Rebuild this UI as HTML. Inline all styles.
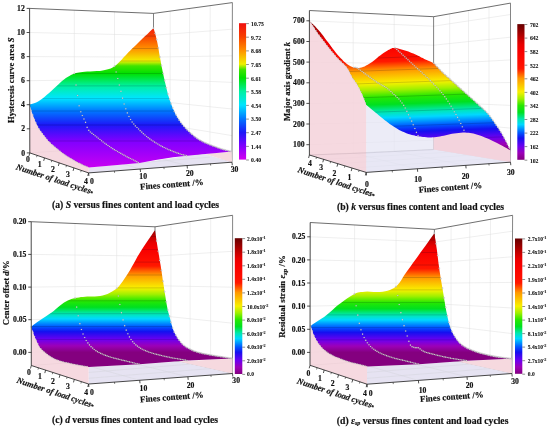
<!DOCTYPE html>
<html><head><meta charset="utf-8"><title>Figure</title>
<style>
html,body{margin:0;padding:0;background:#fff;}
svg{display:block;}
svg text{font-family:"Liberation Serif","Times New Roman",serif;fill:#111;stroke:#111;stroke-width:0.18px;}
</style></head><body>
<svg width="550" height="429" viewBox="0 0 550 429">
<rect width="550" height="429" fill="#fff"/>
<defs>
<linearGradient id="ga" gradientUnits="userSpaceOnUse" x1="0.0" y1="23.6" x2="0.0" y2="172.0"><stop offset="0.0000" stop-color="#f01010"/><stop offset="0.0842" stop-color="#f84000"/><stop offset="0.1678" stop-color="#ff9000"/><stop offset="0.2520" stop-color="#f0f000"/><stop offset="0.2854" stop-color="#40e400"/><stop offset="0.3356" stop-color="#00e000"/><stop offset="0.4198" stop-color="#00f0a0"/><stop offset="0.5034" stop-color="#00e4ff"/><stop offset="0.5889" stop-color="#0078ff"/><stop offset="0.6833" stop-color="#1c18f8"/><stop offset="0.7911" stop-color="#8000ff"/><stop offset="1.0000" stop-color="#d400f0"/></linearGradient>
<linearGradient id="cba" gradientUnits="userSpaceOnUse" x1="0.0" y1="23.2" x2="0.0" y2="159.6"><stop offset="0.0000" stop-color="#f01010"/><stop offset="0.1000" stop-color="#f84000"/><stop offset="0.2000" stop-color="#ff9000"/><stop offset="0.3000" stop-color="#f0f000"/><stop offset="0.3400" stop-color="#40e400"/><stop offset="0.4000" stop-color="#00e000"/><stop offset="0.5000" stop-color="#00f0a0"/><stop offset="0.6000" stop-color="#00e4ff"/><stop offset="0.7000" stop-color="#0078ff"/><stop offset="0.8000" stop-color="#1c18f8"/><stop offset="0.9000" stop-color="#8000ff"/><stop offset="1.0000" stop-color="#d400f0"/></linearGradient>
<linearGradient id="gb" gradientUnits="userSpaceOnUse" x1="400.0" y1="12.0" x2="405.0" y2="154.0"><stop offset="0.0000" stop-color="#660000"/><stop offset="0.1268" stop-color="#c00000"/><stop offset="0.1789" stop-color="#e80000"/><stop offset="0.2310" stop-color="#f80000"/><stop offset="0.3183" stop-color="#ff1000"/><stop offset="0.3449" stop-color="#ff1800"/><stop offset="0.3715" stop-color="#ff5000"/><stop offset="0.4070" stop-color="#ff9800"/><stop offset="0.4958" stop-color="#f8f000"/><stop offset="0.5451" stop-color="#a0f000"/><stop offset="0.5944" stop-color="#28e800"/><stop offset="0.6468" stop-color="#00e020"/><stop offset="0.6993" stop-color="#00e8b0"/><stop offset="0.7407" stop-color="#00d8ff"/><stop offset="0.8028" stop-color="#0058ff"/><stop offset="0.8437" stop-color="#1410f0"/><stop offset="0.9049" stop-color="#6c00f0"/><stop offset="0.9525" stop-color="#9c00b8"/><stop offset="1.0000" stop-color="#84007f"/></linearGradient>
<linearGradient id="cbb" gradientUnits="userSpaceOnUse" x1="0.0" y1="24.1" x2="0.0" y2="159.8"><stop offset="0.0000" stop-color="#660000"/><stop offset="0.1000" stop-color="#c00000"/><stop offset="0.1500" stop-color="#e80000"/><stop offset="0.2000" stop-color="#f80000"/><stop offset="0.3000" stop-color="#ff1000"/><stop offset="0.3300" stop-color="#ff1800"/><stop offset="0.3600" stop-color="#ff5000"/><stop offset="0.4000" stop-color="#ff9800"/><stop offset="0.5000" stop-color="#f8f000"/><stop offset="0.5500" stop-color="#a0f000"/><stop offset="0.6000" stop-color="#28e800"/><stop offset="0.6500" stop-color="#00e020"/><stop offset="0.7000" stop-color="#00e8b0"/><stop offset="0.7400" stop-color="#00d8ff"/><stop offset="0.8000" stop-color="#0058ff"/><stop offset="0.8400" stop-color="#1410f0"/><stop offset="0.9000" stop-color="#6c00f0"/><stop offset="0.9500" stop-color="#9c00b8"/><stop offset="1.0000" stop-color="#84007f"/></linearGradient>
<linearGradient id="gc" gradientUnits="userSpaceOnUse" x1="0.0" y1="223.5" x2="0.0" y2="352.3"><stop offset="0.0000" stop-color="#660000"/><stop offset="0.1000" stop-color="#c00000"/><stop offset="0.1500" stop-color="#e80000"/><stop offset="0.2000" stop-color="#f80000"/><stop offset="0.3000" stop-color="#ff1000"/><stop offset="0.3300" stop-color="#ff1800"/><stop offset="0.3600" stop-color="#ff5000"/><stop offset="0.4000" stop-color="#ff9800"/><stop offset="0.5000" stop-color="#f8f000"/><stop offset="0.5500" stop-color="#a0f000"/><stop offset="0.6000" stop-color="#28e800"/><stop offset="0.6500" stop-color="#00e020"/><stop offset="0.7000" stop-color="#00e8b0"/><stop offset="0.7400" stop-color="#00d8ff"/><stop offset="0.8000" stop-color="#0058ff"/><stop offset="0.8400" stop-color="#1410f0"/><stop offset="0.9000" stop-color="#6c00f0"/><stop offset="0.9500" stop-color="#9c00b8"/><stop offset="1.0000" stop-color="#84007f"/></linearGradient>
<linearGradient id="cbc" gradientUnits="userSpaceOnUse" x1="0.0" y1="238.2" x2="0.0" y2="374.0"><stop offset="0.0000" stop-color="#660000"/><stop offset="0.1000" stop-color="#c00000"/><stop offset="0.1500" stop-color="#e80000"/><stop offset="0.2000" stop-color="#f80000"/><stop offset="0.3000" stop-color="#ff1000"/><stop offset="0.3300" stop-color="#ff1800"/><stop offset="0.3600" stop-color="#ff5000"/><stop offset="0.4000" stop-color="#ff9800"/><stop offset="0.5000" stop-color="#f8f000"/><stop offset="0.5500" stop-color="#a0f000"/><stop offset="0.6000" stop-color="#28e800"/><stop offset="0.6500" stop-color="#00e020"/><stop offset="0.7000" stop-color="#00e8b0"/><stop offset="0.7400" stop-color="#00d8ff"/><stop offset="0.8000" stop-color="#0058ff"/><stop offset="0.8400" stop-color="#1410f0"/><stop offset="0.9000" stop-color="#6c00f0"/><stop offset="0.9500" stop-color="#9c00b8"/><stop offset="1.0000" stop-color="#84007f"/></linearGradient>
<linearGradient id="gd" gradientUnits="userSpaceOnUse" x1="0.0" y1="227.5" x2="0.0" y2="352.4"><stop offset="0.0000" stop-color="#660000"/><stop offset="0.1000" stop-color="#c00000"/><stop offset="0.1500" stop-color="#e80000"/><stop offset="0.2000" stop-color="#f80000"/><stop offset="0.3000" stop-color="#ff1000"/><stop offset="0.3300" stop-color="#ff1800"/><stop offset="0.3600" stop-color="#ff5000"/><stop offset="0.4000" stop-color="#ff9800"/><stop offset="0.5000" stop-color="#f8f000"/><stop offset="0.5500" stop-color="#a0f000"/><stop offset="0.6000" stop-color="#28e800"/><stop offset="0.6500" stop-color="#00e020"/><stop offset="0.7000" stop-color="#00e8b0"/><stop offset="0.7400" stop-color="#00d8ff"/><stop offset="0.8000" stop-color="#0058ff"/><stop offset="0.8400" stop-color="#1410f0"/><stop offset="0.9000" stop-color="#6c00f0"/><stop offset="0.9500" stop-color="#9c00b8"/><stop offset="1.0000" stop-color="#84007f"/></linearGradient>
<linearGradient id="cbd" gradientUnits="userSpaceOnUse" x1="0.0" y1="238.5" x2="0.0" y2="373.8"><stop offset="0.0000" stop-color="#660000"/><stop offset="0.1000" stop-color="#c00000"/><stop offset="0.1500" stop-color="#e80000"/><stop offset="0.2000" stop-color="#f80000"/><stop offset="0.3000" stop-color="#ff1000"/><stop offset="0.3300" stop-color="#ff1800"/><stop offset="0.3600" stop-color="#ff5000"/><stop offset="0.4000" stop-color="#ff9800"/><stop offset="0.5000" stop-color="#f8f000"/><stop offset="0.5500" stop-color="#a0f000"/><stop offset="0.6000" stop-color="#28e800"/><stop offset="0.6500" stop-color="#00e020"/><stop offset="0.7000" stop-color="#00e8b0"/><stop offset="0.7400" stop-color="#00d8ff"/><stop offset="0.8000" stop-color="#0058ff"/><stop offset="0.8400" stop-color="#1410f0"/><stop offset="0.9000" stop-color="#6c00f0"/><stop offset="0.9500" stop-color="#9c00b8"/><stop offset="1.0000" stop-color="#84007f"/></linearGradient>
</defs>
<g id="panel-a">
<line x1="29.8" y1="128.8" x2="153.5" y2="122.7" stroke="#dedede" stroke-width="0.5" />
<line x1="153.5" y1="122.7" x2="232.1" y2="135.6" stroke="#dedede" stroke-width="0.5" />
<line x1="29.7" y1="104.7" x2="153.5" y2="100.9" stroke="#dedede" stroke-width="0.5" />
<line x1="153.5" y1="100.9" x2="232.1" y2="109.0" stroke="#dedede" stroke-width="0.5" />
<line x1="29.7" y1="80.7" x2="153.5" y2="79.0" stroke="#dedede" stroke-width="0.5" />
<line x1="153.5" y1="79.0" x2="232.2" y2="82.4" stroke="#dedede" stroke-width="0.5" />
<line x1="29.7" y1="56.6" x2="153.5" y2="57.1" stroke="#dedede" stroke-width="0.5" />
<line x1="153.5" y1="57.1" x2="232.3" y2="55.8" stroke="#dedede" stroke-width="0.5" />
<line x1="29.6" y1="32.5" x2="153.5" y2="35.3" stroke="#dedede" stroke-width="0.5" />
<line x1="153.5" y1="35.3" x2="232.3" y2="29.2" stroke="#dedede" stroke-width="0.5" />
<line x1="74.4" y1="149.9" x2="74.3" y2="10.2" stroke="#dedede" stroke-width="0.5" />
<line x1="114.6" y1="147.2" x2="114.5" y2="11.8" stroke="#dedede" stroke-width="0.5" />
<line x1="170.1" y1="148.3" x2="170.2" y2="11.1" stroke="#dedede" stroke-width="0.5" />
<line x1="189.4" y1="152.6" x2="189.6" y2="8.5" stroke="#dedede" stroke-width="0.5" />
<line x1="209.9" y1="157.2" x2="210.2" y2="5.6" stroke="#dedede" stroke-width="0.5" />
<polyline points="29.6,8.4 153.5,13.4 232.4,2.6" fill="none" stroke="#4a4a4a" stroke-width="0.8" />
<line x1="232.4" y1="2.6" x2="232.0" y2="162.2" stroke="#666" stroke-width="0.8" />
<line x1="153.5" y1="13.4" x2="153.5" y2="144.6" stroke="#4a4a4a" stroke-width="0.7" />
<line x1="29.8" y1="152.9" x2="153.5" y2="144.6" stroke="#aaa" stroke-width="0.5" />
<line x1="153.5" y1="144.6" x2="232.0" y2="162.2" stroke="#888" stroke-width="0.6" />
<polygon points="88.6,167.4 139.6,163.0 187.6,155.8 205.0,154.0 232.0,162.2 88.6,172.9" fill="#e6e3f2" />
<clipPath id="fca"><polygon points="88.6,167.4 139.6,163.0 187.6,155.8 205.0,154.0 232.0,162.2 88.6,172.9"/></clipPath><g clip-path="url(#fca)">
<line x1="140.2" y1="169.0" x2="74.4" y2="149.9" stroke="#d4d4dc" stroke-width="0.5" />
<line x1="187.1" y1="165.5" x2="114.6" y2="147.2" stroke="#d4d4dc" stroke-width="0.5" />
<line x1="44.5" y1="157.9" x2="170.1" y2="148.3" stroke="#d4d4dc" stroke-width="0.5" />
<line x1="59.2" y1="162.9" x2="189.4" y2="152.6" stroke="#d4d4dc" stroke-width="0.5" />
<line x1="73.9" y1="167.9" x2="209.9" y2="157.2" stroke="#d4d4dc" stroke-width="0.5" />
</g>
<polygon points="205.0,154.0 231.5,151.6 232.0,162.2" fill="#f6d9df" />
<clipPath id="cpa"><polygon points="29.5,104.6 30.4,104.3 31.7,104.0 33.2,103.6 34.9,103.0 36.7,102.3 38.5,101.3 40.4,100.0 42.5,98.4 44.7,96.7 46.9,94.8 49.1,92.9 51.3,91.0 53.4,89.1 55.6,87.0 57.8,85.0 59.9,83.0 62.0,81.1 64.0,79.5 65.9,78.1 67.6,77.0 69.4,75.9 71.0,75.1 72.7,74.3 74.4,73.6 76.0,73.1 77.5,72.7 79.0,72.4 80.6,72.2 82.5,72.0 84.6,71.8 87.2,71.6 90.2,71.4 93.5,71.3 96.8,71.1 99.9,70.9 102.6,70.5 104.9,70.1 107.0,69.6 108.9,69.1 110.7,68.4 112.6,67.5 114.6,66.2 116.8,64.4 119.1,62.3 121.4,59.9 123.7,57.3 126.0,54.9 128.2,52.6 130.3,50.6 132.2,48.6 134.1,46.7 136.0,44.9 138.0,43.0 140.0,41.0 142.3,38.8 144.9,36.3 147.5,33.9 149.9,31.6 152.0,29.6 153.5,28.2 153.9,29.4 154.4,31.0 155.0,33.0 155.6,35.3 156.3,38.0 157.0,41.0 157.7,44.6 158.5,48.7 159.2,53.2 160.1,57.9 160.9,62.4 161.7,66.7 162.5,70.8 163.4,74.9 164.3,79.0 165.2,82.9 166.0,86.5 166.8,89.7 167.5,92.5 168.1,94.9 168.8,97.0 169.4,98.9 170.0,100.9 170.8,103.0 171.6,105.2 172.5,107.4 173.4,109.6 174.4,111.8 175.4,113.9 176.6,116.0 177.8,118.1 179.1,120.1 180.4,122.1 181.9,124.0 183.5,126.0 185.3,128.0 187.3,130.0 189.4,132.1 191.8,134.2 194.2,136.3 196.8,138.2 199.5,140.0 202.5,141.6 205.7,143.1 209.1,144.5 212.4,145.8 215.6,147.0 218.5,148.0 221.2,148.9 223.8,149.7 226.2,150.3 228.4,150.8 230.2,151.3 231.5,151.6 216.7,152.9 202.2,154.3 187.6,155.8 173.0,157.2 155.6,160.1 139.6,163.0 109.0,165.7 88.6,167.4 88.1,167.2 87.4,167.0 86.5,166.7 85.5,166.3 84.5,165.9 83.4,165.4 82.3,164.9 81.0,164.3 79.7,163.6 78.4,162.9 77.0,162.2 75.5,161.4 73.9,160.5 72.3,159.6 70.5,158.6 68.8,157.5 67.2,156.5 65.6,155.5 64.2,154.5 62.8,153.5 61.5,152.6 60.3,151.6 59.0,150.6 57.7,149.5 56.3,148.4 55.0,147.3 53.6,146.1 52.2,144.9 50.9,143.8 49.7,142.6 48.6,141.4 47.5,140.3 46.6,139.1 45.6,137.9 44.7,136.8 43.8,135.6 42.9,134.5 42.0,133.3 41.2,132.2 40.4,131.1 39.6,129.9 38.8,128.7 38.1,127.4 37.4,126.1 36.7,124.8 36.1,123.5 35.5,122.1 34.9,120.8 34.3,119.5 33.8,118.1 33.3,116.8 32.8,115.5 32.4,114.1 31.9,112.8 31.4,111.4 31.0,109.8 30.5,108.2 30.1,106.7 29.8,105.5 29.5,104.6"/></clipPath>
<polygon points="29.5,104.6 30.4,104.3 31.7,104.0 33.2,103.6 34.9,103.0 36.7,102.3 38.5,101.3 40.4,100.0 42.5,98.4 44.7,96.7 46.9,94.8 49.1,92.9 51.3,91.0 53.4,89.1 55.6,87.0 57.8,85.0 59.9,83.0 62.0,81.1 64.0,79.5 65.9,78.1 67.6,77.0 69.4,75.9 71.0,75.1 72.7,74.3 74.4,73.6 76.0,73.1 77.5,72.7 79.0,72.4 80.6,72.2 82.5,72.0 84.6,71.8 87.2,71.6 90.2,71.4 93.5,71.3 96.8,71.1 99.9,70.9 102.6,70.5 104.9,70.1 107.0,69.6 108.9,69.1 110.7,68.4 112.6,67.5 114.6,66.2 116.8,64.4 119.1,62.3 121.4,59.9 123.7,57.3 126.0,54.9 128.2,52.6 130.3,50.6 132.2,48.6 134.1,46.7 136.0,44.9 138.0,43.0 140.0,41.0 142.3,38.8 144.9,36.3 147.5,33.9 149.9,31.6 152.0,29.6 153.5,28.2 153.9,29.4 154.4,31.0 155.0,33.0 155.6,35.3 156.3,38.0 157.0,41.0 157.7,44.6 158.5,48.7 159.2,53.2 160.1,57.9 160.9,62.4 161.7,66.7 162.5,70.8 163.4,74.9 164.3,79.0 165.2,82.9 166.0,86.5 166.8,89.7 167.5,92.5 168.1,94.9 168.8,97.0 169.4,98.9 170.0,100.9 170.8,103.0 171.6,105.2 172.5,107.4 173.4,109.6 174.4,111.8 175.4,113.9 176.6,116.0 177.8,118.1 179.1,120.1 180.4,122.1 181.9,124.0 183.5,126.0 185.3,128.0 187.3,130.0 189.4,132.1 191.8,134.2 194.2,136.3 196.8,138.2 199.5,140.0 202.5,141.6 205.7,143.1 209.1,144.5 212.4,145.8 215.6,147.0 218.5,148.0 221.2,148.9 223.8,149.7 226.2,150.3 228.4,150.8 230.2,151.3 231.5,151.6 216.7,152.9 202.2,154.3 187.6,155.8 173.0,157.2 155.6,160.1 139.6,163.0 109.0,165.7 88.6,167.4 88.1,167.2 87.4,167.0 86.5,166.7 85.5,166.3 84.5,165.9 83.4,165.4 82.3,164.9 81.0,164.3 79.7,163.6 78.4,162.9 77.0,162.2 75.5,161.4 73.9,160.5 72.3,159.6 70.5,158.6 68.8,157.5 67.2,156.5 65.6,155.5 64.2,154.5 62.8,153.5 61.5,152.6 60.3,151.6 59.0,150.6 57.7,149.5 56.3,148.4 55.0,147.3 53.6,146.1 52.2,144.9 50.9,143.8 49.7,142.6 48.6,141.4 47.5,140.3 46.6,139.1 45.6,137.9 44.7,136.8 43.8,135.6 42.9,134.5 42.0,133.3 41.2,132.2 40.4,131.1 39.6,129.9 38.8,128.7 38.1,127.4 37.4,126.1 36.7,124.8 36.1,123.5 35.5,122.1 34.9,120.8 34.3,119.5 33.8,118.1 33.3,116.8 32.8,115.5 32.4,114.1 31.9,112.8 31.4,111.4 31.0,109.8 30.5,108.2 30.1,106.7 29.8,105.5 29.5,104.6" fill="url(#ga)" />
<g clip-path="url(#cpa)">
<line x1="25.0" y1="36.1" x2="235.0" y2="36.1" stroke="#002" stroke-width="0.6" opacity="0.28"/>
<line x1="25.0" y1="48.5" x2="235.0" y2="48.5" stroke="#002" stroke-width="0.6" opacity="0.28"/>
<line x1="25.0" y1="61.0" x2="235.0" y2="61.0" stroke="#002" stroke-width="0.6" opacity="0.28"/>
<line x1="25.0" y1="73.4" x2="235.0" y2="73.4" stroke="#002" stroke-width="0.6" opacity="0.28"/>
<line x1="25.0" y1="85.9" x2="235.0" y2="85.9" stroke="#002" stroke-width="0.6" opacity="0.28"/>
<line x1="25.0" y1="98.3" x2="235.0" y2="98.3" stroke="#002" stroke-width="0.6" opacity="0.28"/>
<line x1="25.0" y1="111.0" x2="235.0" y2="111.0" stroke="#002" stroke-width="0.6" opacity="0.28"/>
<line x1="25.0" y1="125.0" x2="235.0" y2="125.0" stroke="#002" stroke-width="0.6" opacity="0.28"/>
<line x1="25.0" y1="141.0" x2="235.0" y2="141.0" stroke="#002" stroke-width="0.6" opacity="0.28"/>
</g>
<path d="M73.9 73.0h1.1v1.1h-1.1zM75.5 84.5h1.1v1.1h-1.1zM77.0 94.9h1.1v1.1h-1.1zM78.6 105.2h1.1v1.1h-1.1zM80.2 111.2h1.1v1.1h-1.1zM81.8 115.0h1.1v1.1h-1.1zM83.4 118.4h1.1v1.1h-1.1zM85.0 121.8h1.1v1.1h-1.1zM86.6 126.8h1.1v1.1h-1.1zM88.2 129.8h1.1v1.1h-1.1zM89.8 131.4h1.1v1.1h-1.1zM91.4 132.8h1.1v1.1h-1.1zM93.0 134.0h1.1v1.1h-1.1zM94.6 135.2h1.1v1.1h-1.1zM96.2 136.4h1.1v1.1h-1.1zM97.8 137.7h1.1v1.1h-1.1zM99.4 138.9h1.1v1.1h-1.1zM101.0 140.2h1.1v1.1h-1.1zM102.6 141.5h1.1v1.1h-1.1zM104.2 142.7h1.1v1.1h-1.1zM105.8 143.8h1.1v1.1h-1.1zM107.4 145.0h1.1v1.1h-1.1zM109.0 146.0h1.1v1.1h-1.1zM110.6 147.1h1.1v1.1h-1.1zM112.2 148.1h1.1v1.1h-1.1zM113.8 149.1h1.1v1.1h-1.1zM115.4 150.0h1.1v1.1h-1.1zM117.0 151.0h1.1v1.1h-1.1zM118.6 151.9h1.1v1.1h-1.1zM120.2 152.8h1.1v1.1h-1.1zM121.8 153.7h1.1v1.1h-1.1zM123.4 154.6h1.1v1.1h-1.1zM125.0 155.4h1.1v1.1h-1.1zM126.6 156.3h1.1v1.1h-1.1zM128.2 157.1h1.1v1.1h-1.1zM129.8 157.9h1.1v1.1h-1.1zM131.4 158.7h1.1v1.1h-1.1zM133.0 159.5h1.1v1.1h-1.1zM134.6 160.3h1.1v1.1h-1.1zM136.2 161.1h1.1v1.1h-1.1zM137.8 161.9h1.1v1.1h-1.1z" fill="#ececec" stroke="#8f8f8f" stroke-width="0.25"/>
<path d="M114.0 65.7h1.1v1.1h-1.1zM115.6 71.4h1.1v1.1h-1.1zM117.2 78.0h1.1v1.1h-1.1zM118.8 84.4h1.1v1.1h-1.1zM120.4 90.8h1.1v1.1h-1.1zM122.0 97.6h1.1v1.1h-1.1zM123.6 103.4h1.1v1.1h-1.1zM125.2 108.2h1.1v1.1h-1.1zM126.8 112.3h1.1v1.1h-1.1zM128.4 115.9h1.1v1.1h-1.1zM130.0 118.9h1.1v1.1h-1.1zM131.6 121.4h1.1v1.1h-1.1zM133.2 123.5h1.1v1.1h-1.1zM134.8 125.3h1.1v1.1h-1.1zM136.4 126.9h1.1v1.1h-1.1zM138.0 128.5h1.1v1.1h-1.1zM139.6 130.1h1.1v1.1h-1.1zM141.2 131.6h1.1v1.1h-1.1zM142.8 133.1h1.1v1.1h-1.1zM144.4 134.5h1.1v1.1h-1.1zM146.0 135.9h1.1v1.1h-1.1zM147.6 137.1h1.1v1.1h-1.1zM149.2 138.3h1.1v1.1h-1.1zM150.8 139.5h1.1v1.1h-1.1zM152.4 140.5h1.1v1.1h-1.1zM154.0 141.6h1.1v1.1h-1.1zM155.6 142.5h1.1v1.1h-1.1zM157.2 143.5h1.1v1.1h-1.1zM158.8 144.4h1.1v1.1h-1.1zM160.4 145.3h1.1v1.1h-1.1zM162.0 146.1h1.1v1.1h-1.1zM163.6 146.9h1.1v1.1h-1.1zM165.2 147.7h1.1v1.1h-1.1zM166.8 148.5h1.1v1.1h-1.1zM168.4 149.2h1.1v1.1h-1.1zM170.0 149.8h1.1v1.1h-1.1zM171.6 150.5h1.1v1.1h-1.1zM173.2 151.1h1.1v1.1h-1.1zM174.8 151.7h1.1v1.1h-1.1zM176.4 152.3h1.1v1.1h-1.1zM178.0 152.8h1.1v1.1h-1.1zM179.6 153.4h1.1v1.1h-1.1zM181.2 153.9h1.1v1.1h-1.1zM182.8 154.3h1.1v1.1h-1.1zM184.4 154.7h1.1v1.1h-1.1zM186.0 155.0h1.1v1.1h-1.1z" fill="#ececec" stroke="#8f8f8f" stroke-width="0.25"/>
<path d="M152.9 27.6h1.1v1.1h-1.1zM154.5 32.9h1.1v1.1h-1.1zM156.1 39.1h1.1v1.1h-1.1zM157.7 47.3h1.1v1.1h-1.1zM159.3 56.4h1.1v1.1h-1.1zM160.9 65.1h1.1v1.1h-1.1zM162.5 72.9h1.1v1.1h-1.1zM164.1 80.2h1.1v1.1h-1.1zM165.7 87.1h1.1v1.1h-1.1zM167.3 93.4h1.1v1.1h-1.1zM168.9 98.8h1.1v1.1h-1.1zM170.5 103.2h1.1v1.1h-1.1zM172.1 107.3h1.1v1.1h-1.1zM173.7 111.0h1.1v1.1h-1.1zM175.3 114.2h1.1v1.1h-1.1zM176.9 117.0h1.1v1.1h-1.1zM178.5 119.6h1.1v1.1h-1.1zM180.1 121.9h1.1v1.1h-1.1zM181.7 124.0h1.1v1.1h-1.1zM183.3 125.9h1.1v1.1h-1.1zM184.9 127.7h1.1v1.1h-1.1zM186.5 129.3h1.1v1.1h-1.1zM188.1 130.9h1.1v1.1h-1.1zM189.7 132.4h1.1v1.1h-1.1zM191.3 133.8h1.1v1.1h-1.1zM192.9 135.2h1.1v1.1h-1.1zM194.5 136.4h1.1v1.1h-1.1zM196.1 137.6h1.1v1.1h-1.1zM197.7 138.7h1.1v1.1h-1.1zM199.3 139.7h1.1v1.1h-1.1zM200.9 140.5h1.1v1.1h-1.1zM202.5 141.4h1.1v1.1h-1.1zM204.1 142.1h1.1v1.1h-1.1zM205.7 142.8h1.1v1.1h-1.1zM207.3 143.5h1.1v1.1h-1.1zM208.9 144.1h1.1v1.1h-1.1zM210.5 144.7h1.1v1.1h-1.1zM212.1 145.4h1.1v1.1h-1.1zM213.7 145.9h1.1v1.1h-1.1zM215.3 146.5h1.1v1.1h-1.1zM216.9 147.1h1.1v1.1h-1.1zM218.5 147.7h1.1v1.1h-1.1zM220.1 148.2h1.1v1.1h-1.1zM221.7 148.7h1.1v1.1h-1.1zM223.3 149.1h1.1v1.1h-1.1zM224.9 149.6h1.1v1.1h-1.1zM226.5 150.0h1.1v1.1h-1.1zM228.1 150.4h1.1v1.1h-1.1zM229.7 150.7h1.1v1.1h-1.1z" fill="#ececec" stroke="#8f8f8f" stroke-width="0.25"/>
<path d="M28.9 104.0h1.1v1.1h-1.1zM30.6 109.7h1.1v1.1h-1.1zM32.2 114.6h1.1v1.1h-1.1zM33.8 118.8h1.1v1.1h-1.1zM35.4 122.5h1.1v1.1h-1.1zM37.0 125.8h1.1v1.1h-1.1zM38.6 128.6h1.1v1.1h-1.1zM40.2 131.0h1.1v1.1h-1.1zM41.8 133.1h1.1v1.1h-1.1zM43.4 135.2h1.1v1.1h-1.1zM45.0 137.2h1.1v1.1h-1.1zM46.6 139.2h1.1v1.1h-1.1zM48.2 141.0h1.1v1.1h-1.1zM49.8 142.6h1.1v1.1h-1.1zM51.4 144.1h1.1v1.1h-1.1zM53.0 145.5h1.1v1.1h-1.1zM54.6 146.8h1.1v1.1h-1.1zM56.2 148.1h1.1v1.1h-1.1zM57.8 149.4h1.1v1.1h-1.1zM59.4 150.7h1.1v1.1h-1.1zM61.0 152.0h1.1v1.1h-1.1zM62.6 153.2h1.1v1.1h-1.1zM64.2 154.3h1.1v1.1h-1.1zM65.8 155.4h1.1v1.1h-1.1zM67.4 156.4h1.1v1.1h-1.1zM69.0 157.4h1.1v1.1h-1.1zM70.6 158.3h1.1v1.1h-1.1zM72.2 159.3h1.1v1.1h-1.1zM73.8 160.2h1.1v1.1h-1.1zM75.3 161.1h1.1v1.1h-1.1zM76.9 161.9h1.1v1.1h-1.1zM78.5 162.8h1.1v1.1h-1.1zM80.1 163.6h1.1v1.1h-1.1zM81.7 164.3h1.1v1.1h-1.1zM83.3 165.1h1.1v1.1h-1.1zM84.9 165.7h1.1v1.1h-1.1zM86.5 166.3h1.1v1.1h-1.1z" fill="#ececec" stroke="#8f8f8f" stroke-width="0.25"/>
<polygon points="29.5,104.6 29.8,105.5 30.1,106.7 30.5,108.2 31.0,109.8 31.4,111.3 31.9,112.8 32.4,114.1 32.8,115.5 33.3,116.8 33.8,118.1 34.3,119.5 34.9,120.8 35.5,122.1 36.1,123.5 36.7,124.8 37.4,126.1 38.1,127.4 38.8,128.7 39.6,129.9 40.4,131.1 41.2,132.2 42.0,133.3 42.9,134.5 43.8,135.6 44.7,136.8 45.6,137.9 46.6,139.1 47.5,140.3 48.6,141.4 49.7,142.6 50.9,143.8 52.2,144.9 53.6,146.1 55.0,147.3 56.3,148.4 57.7,149.5 59.0,150.6 60.3,151.6 61.5,152.6 62.8,153.5 64.2,154.5 65.6,155.5 67.2,156.5 68.8,157.5 70.5,158.6 72.3,159.6 73.9,160.5 75.5,161.4 77.0,162.2 78.4,162.9 79.7,163.6 81.0,164.3 82.3,164.9 83.4,165.4 84.5,165.9 85.5,166.3 86.5,166.7 87.4,167.0 88.1,167.2 88.6,167.4 88.6,172.9 29.8,152.9" fill="rgba(244,210,218,0.85)" />
<line x1="29.6" y1="8.4" x2="29.8" y2="152.9" stroke="#333" stroke-width="0.9" />
<line x1="29.8" y1="152.9" x2="88.6" y2="172.9" stroke="#333" stroke-width="0.9" />
<line x1="88.6" y1="172.9" x2="232.0" y2="162.2" stroke="#333" stroke-width="0.9" />
<line x1="26.8" y1="152.9" x2="29.8" y2="152.9" stroke="#222" stroke-width="0.8" />
<text x="25.0" y="155.5" font-size="7.7" text-anchor="end" font-weight="bold" font-style="normal" >0</text>
<line x1="26.8" y1="128.8" x2="29.8" y2="128.8" stroke="#222" stroke-width="0.8" />
<text x="25.0" y="131.4" font-size="7.7" text-anchor="end" font-weight="bold" font-style="normal" >2</text>
<line x1="26.7" y1="104.7" x2="29.7" y2="104.7" stroke="#222" stroke-width="0.8" />
<text x="24.9" y="107.3" font-size="7.7" text-anchor="end" font-weight="bold" font-style="normal" >4</text>
<line x1="26.7" y1="80.7" x2="29.7" y2="80.7" stroke="#222" stroke-width="0.8" />
<text x="24.9" y="83.2" font-size="7.7" text-anchor="end" font-weight="bold" font-style="normal" >6</text>
<line x1="26.7" y1="56.6" x2="29.7" y2="56.6" stroke="#222" stroke-width="0.8" />
<text x="24.9" y="59.2" font-size="7.7" text-anchor="end" font-weight="bold" font-style="normal" >8</text>
<line x1="26.6" y1="32.5" x2="29.6" y2="32.5" stroke="#222" stroke-width="0.8" />
<text x="24.8" y="35.1" font-size="7.7" text-anchor="end" font-weight="bold" font-style="normal" >10</text>
<line x1="26.6" y1="8.4" x2="29.6" y2="8.4" stroke="#222" stroke-width="0.8" />
<text x="24.8" y="11.0" font-size="7.7" text-anchor="end" font-weight="bold" font-style="normal" >12</text>
<line x1="29.8" y1="152.9" x2="29.0" y2="155.9" stroke="#222" stroke-width="0.8" />
<text x="28.0" y="161.6" font-size="7.7" text-anchor="middle" font-weight="bold" font-style="normal" >0</text>
<line x1="44.5" y1="157.9" x2="43.7" y2="160.9" stroke="#222" stroke-width="0.8" />
<text x="39.6" y="166.6" font-size="7.7" text-anchor="middle" font-weight="bold" font-style="normal" >1</text>
<line x1="59.2" y1="162.9" x2="58.4" y2="165.9" stroke="#222" stroke-width="0.8" />
<text x="53.0" y="172.0" font-size="7.7" text-anchor="middle" font-weight="bold" font-style="normal" >2</text>
<line x1="73.9" y1="167.9" x2="73.1" y2="170.9" stroke="#222" stroke-width="0.8" />
<text x="68.0" y="177.0" font-size="7.7" text-anchor="middle" font-weight="bold" font-style="normal" >3</text>
<line x1="88.6" y1="172.9" x2="87.8" y2="175.9" stroke="#222" stroke-width="0.8" />
<text x="86.0" y="183.6" font-size="7.7" text-anchor="middle" font-weight="bold" font-style="normal" >4</text>
<line x1="37.1" y1="155.4" x2="36.6" y2="157.2" stroke="#222" stroke-width="0.6" />
<line x1="51.8" y1="160.4" x2="51.3" y2="162.2" stroke="#222" stroke-width="0.6" />
<line x1="66.5" y1="165.4" x2="66.0" y2="167.2" stroke="#222" stroke-width="0.6" />
<line x1="81.2" y1="170.4" x2="80.8" y2="172.2" stroke="#222" stroke-width="0.6" />
<line x1="88.6" y1="172.9" x2="88.9" y2="175.9" stroke="#222" stroke-width="0.8" />
<text x="91.8" y="183.6" font-size="7.7" text-anchor="middle" font-weight="bold" font-style="normal" >0</text>
<line x1="140.2" y1="169.0" x2="140.5" y2="172.0" stroke="#222" stroke-width="0.8" />
<text x="143.2" y="179.2" font-size="7.7" text-anchor="middle" font-weight="bold" font-style="normal" >10</text>
<line x1="187.1" y1="165.5" x2="187.4" y2="168.5" stroke="#222" stroke-width="0.8" />
<text x="189.8" y="175.6" font-size="7.7" text-anchor="middle" font-weight="bold" font-style="normal" >20</text>
<line x1="232.0" y1="162.2" x2="232.3" y2="165.2" stroke="#222" stroke-width="0.8" />
<text x="234.5" y="171.6" font-size="7.7" text-anchor="middle" font-weight="bold" font-style="normal" >30</text>
<line x1="114.4" y1="171.0" x2="114.6" y2="172.8" stroke="#222" stroke-width="0.6" />
<line x1="163.9" y1="167.3" x2="164.1" y2="169.1" stroke="#222" stroke-width="0.6" />
<line x1="210.5" y1="163.8" x2="210.7" y2="165.6" stroke="#222" stroke-width="0.6" />
<text x="14.3" y="80.2" font-size="8.64" text-anchor="middle" font-weight="bold" font-style="normal" transform="rotate(-90.0 14.3 80.2)" >Hysteresis curve area <tspan font-style="italic">S</tspan></text>
<text x="54.0" y="182.0" font-size="8.5" text-anchor="middle" font-weight="bold" font-style="normal" transform="rotate(18.3 54.0 182.0)" ><tspan font-style="italic">Number of load cycles</tspan><tspan font-size="5.5" dy="0.5">*</tspan></text>
<text x="172.0" y="187.3" font-size="8.8" text-anchor="middle" font-weight="bold" font-style="normal" transform="rotate(-4.3 172.0 187.3)" >Fines content /%</text>
<rect x="239.0" y="23.2" width="7.1" height="136.4" fill="url(#cba)"/>
<line x1="246.1" y1="23.6" x2="248.9" y2="23.6" stroke="#444" stroke-width="0.6" />
<text font-size="6.5" font-weight="bold" style="stroke-width:0.08px" transform="translate(251.1 25.9) scale(0.88 1)">10.75</text>
<line x1="246.1" y1="37.2" x2="248.9" y2="37.2" stroke="#444" stroke-width="0.6" />
<text font-size="6.5" font-weight="bold" style="stroke-width:0.08px" transform="translate(251.1 39.6) scale(0.88 1)">9.72</text>
<line x1="246.1" y1="50.9" x2="248.9" y2="50.9" stroke="#444" stroke-width="0.6" />
<text font-size="6.5" font-weight="bold" style="stroke-width:0.08px" transform="translate(251.1 53.2) scale(0.88 1)">8.68</text>
<line x1="246.1" y1="64.5" x2="248.9" y2="64.5" stroke="#444" stroke-width="0.6" />
<text font-size="6.5" font-weight="bold" style="stroke-width:0.08px" transform="translate(251.1 66.9) scale(0.88 1)">7.65</text>
<line x1="246.1" y1="78.2" x2="248.9" y2="78.2" stroke="#444" stroke-width="0.6" />
<text font-size="6.5" font-weight="bold" style="stroke-width:0.08px" transform="translate(251.1 80.5) scale(0.88 1)">6.61</text>
<line x1="246.1" y1="91.8" x2="248.9" y2="91.8" stroke="#444" stroke-width="0.6" />
<text font-size="6.5" font-weight="bold" style="stroke-width:0.08px" transform="translate(251.1 94.1) scale(0.88 1)">5.58</text>
<line x1="246.1" y1="105.4" x2="248.9" y2="105.4" stroke="#444" stroke-width="0.6" />
<text font-size="6.5" font-weight="bold" style="stroke-width:0.08px" transform="translate(251.1 107.8) scale(0.88 1)">4.54</text>
<line x1="246.1" y1="119.1" x2="248.9" y2="119.1" stroke="#444" stroke-width="0.6" />
<text font-size="6.5" font-weight="bold" style="stroke-width:0.08px" transform="translate(251.1 121.4) scale(0.88 1)">3.50</text>
<line x1="246.1" y1="132.7" x2="248.9" y2="132.7" stroke="#444" stroke-width="0.6" />
<text font-size="6.5" font-weight="bold" style="stroke-width:0.08px" transform="translate(251.1 135.1) scale(0.88 1)">2.47</text>
<line x1="246.1" y1="146.4" x2="248.9" y2="146.4" stroke="#444" stroke-width="0.6" />
<text font-size="6.5" font-weight="bold" style="stroke-width:0.08px" transform="translate(251.1 148.7) scale(0.88 1)">1.44</text>
<line x1="246.1" y1="160.0" x2="248.9" y2="160.0" stroke="#444" stroke-width="0.6" />
<text font-size="6.5" font-weight="bold" style="stroke-width:0.08px" transform="translate(251.1 162.3) scale(0.88 1)">0.40</text>
<text x="135.5" y="207.5" font-size="9.66" text-anchor="middle" font-weight="bold" font-style="normal" >(a) <tspan font-style="italic">S</tspan> versus fines content and load cycles</text>
</g>
<g id="panel-b">
<line x1="309.4" y1="144.7" x2="433.6" y2="140.1" stroke="#dedede" stroke-width="0.5" />
<line x1="433.6" y1="140.1" x2="510.5" y2="150.8" stroke="#dedede" stroke-width="0.5" />
<line x1="309.4" y1="124.0" x2="433.6" y2="121.1" stroke="#dedede" stroke-width="0.5" />
<line x1="433.6" y1="121.1" x2="510.5" y2="128.1" stroke="#dedede" stroke-width="0.5" />
<line x1="309.4" y1="103.4" x2="433.6" y2="102.1" stroke="#dedede" stroke-width="0.5" />
<line x1="433.6" y1="102.1" x2="510.5" y2="105.4" stroke="#dedede" stroke-width="0.5" />
<line x1="309.4" y1="82.8" x2="433.6" y2="83.1" stroke="#dedede" stroke-width="0.5" />
<line x1="433.6" y1="83.1" x2="510.5" y2="82.6" stroke="#dedede" stroke-width="0.5" />
<line x1="309.4" y1="62.1" x2="433.6" y2="64.2" stroke="#dedede" stroke-width="0.5" />
<line x1="433.6" y1="64.2" x2="510.5" y2="59.9" stroke="#dedede" stroke-width="0.5" />
<line x1="309.4" y1="41.5" x2="433.6" y2="45.2" stroke="#dedede" stroke-width="0.5" />
<line x1="433.6" y1="45.2" x2="510.5" y2="37.2" stroke="#dedede" stroke-width="0.5" />
<line x1="309.4" y1="20.8" x2="433.6" y2="26.2" stroke="#dedede" stroke-width="0.5" />
<line x1="433.6" y1="26.2" x2="510.5" y2="14.5" stroke="#dedede" stroke-width="0.5" />
<line x1="353.2" y1="153.1" x2="353.2" y2="12.7" stroke="#dedede" stroke-width="0.5" />
<line x1="394.2" y1="151.3" x2="394.2" y2="14.7" stroke="#dedede" stroke-width="0.5" />
<line x1="449.7" y1="152.2" x2="449.7" y2="13.9" stroke="#dedede" stroke-width="0.5" />
<line x1="468.5" y1="155.3" x2="468.5" y2="10.5" stroke="#dedede" stroke-width="0.5" />
<line x1="489.0" y1="158.7" x2="489.0" y2="6.9" stroke="#dedede" stroke-width="0.5" />
<polyline points="309.4,10.5 433.6,16.7 510.5,3.1" fill="none" stroke="#4a4a4a" stroke-width="0.8" />
<line x1="510.5" y1="3.1" x2="510.5" y2="162.2" stroke="#666" stroke-width="0.8" />
<line x1="433.6" y1="16.7" x2="433.6" y2="149.6" stroke="#4a4a4a" stroke-width="0.7" />
<line x1="309.4" y1="155.0" x2="433.6" y2="149.6" stroke="#aaa" stroke-width="0.5" />
<line x1="433.6" y1="149.6" x2="510.5" y2="162.2" stroke="#888" stroke-width="0.6" />
<polygon points="309.4,155.0 366.2,172.4 510.5,162.2 433.6,149.6" fill="#f0eef8" />
<clipPath id="fcb"><polygon points="309.4,155.0 366.2,172.4 510.5,162.2 433.6,149.6"/></clipPath><g clip-path="url(#fcb)">
<line x1="417.4" y1="168.8" x2="353.2" y2="153.1" stroke="#d4d4dc" stroke-width="0.5" />
<line x1="465.8" y1="165.4" x2="394.2" y2="151.3" stroke="#d4d4dc" stroke-width="0.5" />
<line x1="323.6" y1="159.3" x2="449.7" y2="152.2" stroke="#d4d4dc" stroke-width="0.5" />
<line x1="337.8" y1="163.7" x2="468.5" y2="155.3" stroke="#d4d4dc" stroke-width="0.5" />
<line x1="352.0" y1="168.1" x2="489.0" y2="158.7" stroke="#d4d4dc" stroke-width="0.5" />
</g>
<polygon points="366.1,104.8 367.3,105.8 369.1,107.3 371.1,109.0 373.3,110.8 375.4,112.5 377.3,114.1 379.0,115.5 380.5,116.8 382.1,118.0 383.6,119.2 385.1,120.4 386.6,121.6 388.2,122.8 389.7,123.9 391.3,125.0 392.9,126.1 394.4,127.1 396.0,128.1 397.6,129.0 399.1,129.9 400.7,130.7 402.2,131.4 403.8,132.1 405.3,132.8 406.9,133.4 408.5,133.9 410.2,134.4 411.8,134.9 413.3,135.3 414.6,135.6 415.7,135.9 416.6,136.0 417.4,136.2 418.2,136.3 419.1,136.4 420.2,136.5 421.5,136.7 423.0,136.9 424.6,137.1 426.3,137.2 427.9,137.4 429.6,137.4 431.3,137.4 432.9,137.3 434.6,137.2 436.4,137.0 438.2,136.8 440.0,136.5 441.9,136.1 443.8,135.7 445.8,135.2 447.9,134.7 449.9,134.2 452.0,133.8 454.1,133.5 456.4,133.2 458.6,132.9 460.9,132.8 463.0,132.6 465.0,132.6 466.8,132.7 468.6,132.8 470.2,133.0 471.8,133.3 473.4,133.6 475.0,134.0 476.6,134.4 478.3,134.9 479.9,135.5 481.5,136.1 483.2,136.8 485.0,137.5 486.9,138.3 488.8,139.1 490.8,140.0 492.8,141.0 494.9,142.0 497.0,143.0 499.3,144.2 501.8,145.6 504.4,147.0 506.8,148.3 508.8,149.5 510.3,150.3 510.5,162.2 366.2,172.4" fill="rgba(228,228,244,0.72)" />
<polygon points="433.7,63.2 434.7,64.3 436.1,65.8 437.8,67.5 439.6,69.4 441.3,71.2 443.0,72.9 444.6,74.4 446.1,75.8 447.6,77.2 449.2,78.5 450.8,79.9 452.3,81.3 453.8,82.7 455.4,84.1 456.9,85.5 458.5,86.9 460.0,88.3 461.6,89.7 463.2,91.1 464.7,92.5 466.3,93.9 467.9,95.3 469.4,96.7 471.0,98.1 472.6,99.5 474.2,100.9 475.8,102.4 477.3,103.8 478.8,105.2 480.3,106.5 481.7,107.8 483.0,108.9 484.2,110.1 485.5,111.3 486.7,112.6 488.0,114.0 489.3,115.6 490.7,117.4 492.0,119.3 493.4,121.2 494.7,123.1 496.0,125.0 497.2,126.8 498.4,128.5 499.5,130.3 500.7,132.1 501.8,134.0 503.0,136.0 504.3,138.4 505.7,141.1 507.1,143.8 508.4,146.5 509.5,148.7 510.3,150.3 510.5,162.2 433.6,149.6" fill="#f3d3dd" />
<clipPath id="cpb"><polygon points="309.4,20.9 310.4,21.9 311.8,23.2 313.5,24.8 315.3,26.5 317.0,28.4 318.7,30.2 320.2,32.1 321.8,34.0 323.4,36.1 324.9,38.2 326.4,40.3 328.0,42.3 329.6,44.3 331.1,46.4 332.6,48.5 334.2,50.6 335.7,52.5 337.3,54.4 338.9,56.2 340.5,57.9 342.1,59.6 343.6,61.2 345.2,62.6 346.6,63.8 348.0,64.8 349.2,65.6 350.5,66.2 351.7,66.8 352.9,67.2 354.1,67.5 355.3,67.8 356.5,67.9 357.7,68.0 359.0,68.0 360.2,67.8 361.6,67.5 363.0,67.0 364.6,66.4 366.1,65.6 367.7,64.7 369.3,63.8 370.9,62.8 372.4,61.7 374.0,60.5 375.5,59.2 377.1,57.9 378.6,56.6 380.2,55.4 381.8,54.3 383.5,53.1 385.1,52.0 386.8,51.0 388.3,50.1 389.6,49.4 390.7,48.8 391.6,48.4 392.3,48.1 393.1,47.9 394.0,47.9 395.1,47.9 396.5,48.1 398.1,48.4 399.8,48.9 401.5,49.4 403.3,49.9 405.0,50.5 406.7,51.1 408.4,51.6 410.0,52.3 411.7,52.9 413.4,53.6 415.0,54.3 416.6,55.0 418.1,55.8 419.7,56.6 421.2,57.4 422.8,58.1 424.3,58.9 426.0,59.7 427.8,60.5 429.6,61.3 431.3,62.1 432.7,62.7 433.7,63.2 434.7,64.3 436.1,65.8 437.8,67.5 439.6,69.4 441.3,71.2 443.0,72.9 444.6,74.4 446.1,75.8 447.6,77.2 449.2,78.5 450.8,79.9 452.3,81.3 453.8,82.7 455.4,84.1 456.9,85.5 458.5,86.9 460.0,88.3 461.6,89.7 463.2,91.1 464.7,92.5 466.3,93.9 467.9,95.3 469.4,96.7 471.0,98.1 472.6,99.5 474.2,100.9 475.8,102.4 477.3,103.8 478.8,105.2 480.3,106.5 481.7,107.8 483.0,108.9 484.2,110.1 485.5,111.3 486.7,112.6 488.0,114.0 489.3,115.6 490.7,117.4 492.0,119.3 493.4,121.2 494.7,123.1 496.0,125.0 497.2,126.8 498.4,128.5 499.5,130.3 500.7,132.1 501.8,134.0 503.0,136.0 504.3,138.4 505.7,141.1 507.1,143.8 508.4,146.5 509.5,148.7 510.3,150.3 508.8,149.5 506.8,148.3 504.4,147.0 501.8,145.6 499.3,144.2 497.0,143.0 494.9,142.0 492.8,141.0 490.8,140.0 488.8,139.1 486.9,138.3 485.0,137.5 483.2,136.8 481.5,136.1 479.9,135.5 478.3,134.9 476.6,134.4 475.0,134.0 473.4,133.6 471.8,133.3 470.2,133.0 468.6,132.8 466.8,132.7 465.0,132.6 463.0,132.6 460.9,132.8 458.6,132.9 456.4,133.2 454.1,133.5 452.0,133.8 449.9,134.2 447.9,134.7 445.8,135.2 443.8,135.7 441.9,136.1 440.0,136.5 438.2,136.8 436.4,137.0 434.6,137.2 432.9,137.3 431.3,137.4 429.6,137.4 427.9,137.4 426.3,137.2 424.6,137.1 423.0,136.9 421.5,136.7 420.2,136.5 419.1,136.4 418.2,136.3 417.4,136.2 416.6,136.0 415.7,135.9 414.6,135.6 413.3,135.3 411.8,134.9 410.2,134.4 408.5,133.9 406.9,133.4 405.3,132.8 403.8,132.1 402.2,131.4 400.7,130.7 399.1,129.9 397.6,129.0 396.0,128.1 394.4,127.1 392.9,126.1 391.3,125.0 389.7,123.9 388.2,122.8 386.6,121.6 385.1,120.4 383.6,119.2 382.1,118.0 380.5,116.8 379.0,115.5 377.3,114.1 375.4,112.5 373.3,110.8 371.1,109.0 369.1,107.3 367.3,105.8 366.1,104.8 365.7,103.8 365.2,102.4 364.6,100.8 363.9,99.0 363.2,97.2 362.4,95.4 361.6,93.6 360.6,91.7 359.7,89.7 358.7,87.7 357.7,85.9 356.8,84.3 356.0,83.0 355.2,81.9 354.5,81.0 353.8,80.1 353.0,79.0 352.2,77.8 351.4,76.3 350.5,74.6 349.7,72.8 348.8,71.0 347.8,69.2 346.6,67.5 345.3,65.9 343.8,64.4 342.2,62.9 340.5,61.4 338.9,59.8 337.3,58.2 335.8,56.5 334.2,54.6 332.6,52.8 331.1,50.9 329.6,48.9 328.0,47.0 326.4,45.1 324.9,43.1 323.4,41.1 321.8,39.1 320.3,37.0 318.7,34.9 317.0,32.5 315.3,29.9 313.5,27.1 311.8,24.6 310.4,22.4 309.4,20.9"/></clipPath>
<polygon points="309.4,20.9 310.4,21.9 311.8,23.2 313.5,24.8 315.3,26.5 317.0,28.4 318.7,30.2 320.2,32.1 321.8,34.0 323.4,36.1 324.9,38.2 326.4,40.3 328.0,42.3 329.6,44.3 331.1,46.4 332.6,48.5 334.2,50.6 335.7,52.5 337.3,54.4 338.9,56.2 340.5,57.9 342.1,59.6 343.6,61.2 345.2,62.6 346.6,63.8 348.0,64.8 349.2,65.6 350.5,66.2 351.7,66.8 352.9,67.2 354.1,67.5 355.3,67.8 356.5,67.9 357.7,68.0 359.0,68.0 360.2,67.8 361.6,67.5 363.0,67.0 364.6,66.4 366.1,65.6 367.7,64.7 369.3,63.8 370.9,62.8 372.4,61.7 374.0,60.5 375.5,59.2 377.1,57.9 378.6,56.6 380.2,55.4 381.8,54.3 383.5,53.1 385.1,52.0 386.8,51.0 388.3,50.1 389.6,49.4 390.7,48.8 391.6,48.4 392.3,48.1 393.1,47.9 394.0,47.9 395.1,47.9 396.5,48.1 398.1,48.4 399.8,48.9 401.5,49.4 403.3,49.9 405.0,50.5 406.7,51.1 408.4,51.6 410.0,52.3 411.7,52.9 413.4,53.6 415.0,54.3 416.6,55.0 418.1,55.8 419.7,56.6 421.2,57.4 422.8,58.1 424.3,58.9 426.0,59.7 427.8,60.5 429.6,61.3 431.3,62.1 432.7,62.7 433.7,63.2 434.7,64.3 436.1,65.8 437.8,67.5 439.6,69.4 441.3,71.2 443.0,72.9 444.6,74.4 446.1,75.8 447.6,77.2 449.2,78.5 450.8,79.9 452.3,81.3 453.8,82.7 455.4,84.1 456.9,85.5 458.5,86.9 460.0,88.3 461.6,89.7 463.2,91.1 464.7,92.5 466.3,93.9 467.9,95.3 469.4,96.7 471.0,98.1 472.6,99.5 474.2,100.9 475.8,102.4 477.3,103.8 478.8,105.2 480.3,106.5 481.7,107.8 483.0,108.9 484.2,110.1 485.5,111.3 486.7,112.6 488.0,114.0 489.3,115.6 490.7,117.4 492.0,119.3 493.4,121.2 494.7,123.1 496.0,125.0 497.2,126.8 498.4,128.5 499.5,130.3 500.7,132.1 501.8,134.0 503.0,136.0 504.3,138.4 505.7,141.1 507.1,143.8 508.4,146.5 509.5,148.7 510.3,150.3 508.8,149.5 506.8,148.3 504.4,147.0 501.8,145.6 499.3,144.2 497.0,143.0 494.9,142.0 492.8,141.0 490.8,140.0 488.8,139.1 486.9,138.3 485.0,137.5 483.2,136.8 481.5,136.1 479.9,135.5 478.3,134.9 476.6,134.4 475.0,134.0 473.4,133.6 471.8,133.3 470.2,133.0 468.6,132.8 466.8,132.7 465.0,132.6 463.0,132.6 460.9,132.8 458.6,132.9 456.4,133.2 454.1,133.5 452.0,133.8 449.9,134.2 447.9,134.7 445.8,135.2 443.8,135.7 441.9,136.1 440.0,136.5 438.2,136.8 436.4,137.0 434.6,137.2 432.9,137.3 431.3,137.4 429.6,137.4 427.9,137.4 426.3,137.2 424.6,137.1 423.0,136.9 421.5,136.7 420.2,136.5 419.1,136.4 418.2,136.3 417.4,136.2 416.6,136.0 415.7,135.9 414.6,135.6 413.3,135.3 411.8,134.9 410.2,134.4 408.5,133.9 406.9,133.4 405.3,132.8 403.8,132.1 402.2,131.4 400.7,130.7 399.1,129.9 397.6,129.0 396.0,128.1 394.4,127.1 392.9,126.1 391.3,125.0 389.7,123.9 388.2,122.8 386.6,121.6 385.1,120.4 383.6,119.2 382.1,118.0 380.5,116.8 379.0,115.5 377.3,114.1 375.4,112.5 373.3,110.8 371.1,109.0 369.1,107.3 367.3,105.8 366.1,104.8 365.7,103.8 365.2,102.4 364.6,100.8 363.9,99.0 363.2,97.2 362.4,95.4 361.6,93.6 360.6,91.7 359.7,89.7 358.7,87.7 357.7,85.9 356.8,84.3 356.0,83.0 355.2,81.9 354.5,81.0 353.8,80.1 353.0,79.0 352.2,77.8 351.4,76.3 350.5,74.6 349.7,72.8 348.8,71.0 347.8,69.2 346.6,67.5 345.3,65.9 343.8,64.4 342.2,62.9 340.5,61.4 338.9,59.8 337.3,58.2 335.8,56.5 334.2,54.6 332.6,52.8 331.1,50.9 329.6,48.9 328.0,47.0 326.4,45.1 324.9,43.1 323.4,41.1 321.8,39.1 320.3,37.0 318.7,34.9 317.0,32.5 315.3,29.9 313.5,27.1 311.8,24.6 310.4,22.4 309.4,20.9" fill="url(#gb)" />
<g clip-path="url(#cpb)">
<line x1="200.0" y1="37.0" x2="600.0" y2="23.0" stroke="#002" stroke-width="0.6" opacity="0.28"/>
<line x1="200.0" y1="51.8" x2="600.0" y2="37.8" stroke="#002" stroke-width="0.6" opacity="0.28"/>
<line x1="200.0" y1="64.2" x2="600.0" y2="50.2" stroke="#002" stroke-width="0.6" opacity="0.28"/>
<line x1="200.0" y1="76.8" x2="600.0" y2="62.8" stroke="#002" stroke-width="0.6" opacity="0.28"/>
<line x1="200.0" y1="89.4" x2="600.0" y2="75.4" stroke="#002" stroke-width="0.6" opacity="0.28"/>
<line x1="200.0" y1="103.4" x2="600.0" y2="89.4" stroke="#002" stroke-width="0.6" opacity="0.28"/>
<line x1="200.0" y1="118.3" x2="600.0" y2="104.3" stroke="#002" stroke-width="0.6" opacity="0.28"/>
<line x1="200.0" y1="133.0" x2="600.0" y2="119.0" stroke="#002" stroke-width="0.6" opacity="0.28"/>
<line x1="200.0" y1="147.5" x2="600.0" y2="133.5" stroke="#002" stroke-width="0.6" opacity="0.28"/>
</g>
<path d="M353.4 67.0h1.1v1.1h-1.1zM355.1 67.0h1.1v1.1h-1.1zM356.7 67.6h1.1v1.1h-1.1zM358.3 68.6h1.1v1.1h-1.1zM359.9 69.7h1.1v1.1h-1.1zM361.5 70.9h1.1v1.1h-1.1zM363.1 72.1h1.1v1.1h-1.1zM364.7 73.3h1.1v1.1h-1.1zM366.3 74.5h1.1v1.1h-1.1zM367.9 75.6h1.1v1.1h-1.1zM369.5 76.8h1.1v1.1h-1.1zM371.1 77.9h1.1v1.1h-1.1zM372.7 79.1h1.1v1.1h-1.1zM374.3 80.2h1.1v1.1h-1.1zM375.9 81.3h1.1v1.1h-1.1zM377.5 82.3h1.1v1.1h-1.1zM379.1 83.2h1.1v1.1h-1.1zM380.7 84.2h1.1v1.1h-1.1zM382.3 85.1h1.1v1.1h-1.1zM383.9 86.0h1.1v1.1h-1.1zM385.5 87.0h1.1v1.1h-1.1zM387.1 88.2h1.1v1.1h-1.1zM388.7 89.5h1.1v1.1h-1.1zM390.3 90.9h1.1v1.1h-1.1zM391.9 92.4h1.1v1.1h-1.1zM393.5 93.9h1.1v1.1h-1.1zM395.1 95.3h1.1v1.1h-1.1zM396.7 96.9h1.1v1.1h-1.1zM398.3 98.5h1.1v1.1h-1.1zM399.9 100.4h1.1v1.1h-1.1zM401.5 102.5h1.1v1.1h-1.1zM403.1 104.8h1.1v1.1h-1.1zM404.7 107.5h1.1v1.1h-1.1zM406.3 110.8h1.1v1.1h-1.1zM407.9 114.2h1.1v1.1h-1.1zM409.5 117.4h1.1v1.1h-1.1zM411.1 120.6h1.1v1.1h-1.1zM412.7 124.2h1.1v1.1h-1.1zM414.3 128.0h1.1v1.1h-1.1zM415.9 131.8h1.1v1.1h-1.1zM417.5 135.1h1.1v1.1h-1.1z" fill="#ececec" stroke="#8f8f8f" stroke-width="0.25"/>
<path d="M394.6 47.4h1.1v1.1h-1.1zM396.2 48.8h1.1v1.1h-1.1zM397.8 50.3h1.1v1.1h-1.1zM399.4 51.7h1.1v1.1h-1.1zM401.0 53.2h1.1v1.1h-1.1zM402.6 54.7h1.1v1.1h-1.1zM404.2 56.2h1.1v1.1h-1.1zM405.8 57.7h1.1v1.1h-1.1zM407.4 59.2h1.1v1.1h-1.1zM409.0 60.7h1.1v1.1h-1.1zM410.6 62.2h1.1v1.1h-1.1zM412.2 63.7h1.1v1.1h-1.1zM413.8 65.2h1.1v1.1h-1.1zM415.4 66.7h1.1v1.1h-1.1zM417.0 68.1h1.1v1.1h-1.1zM418.6 69.5h1.1v1.1h-1.1zM420.2 71.0h1.1v1.1h-1.1zM421.8 72.4h1.1v1.1h-1.1zM423.4 73.9h1.1v1.1h-1.1zM425.0 75.4h1.1v1.1h-1.1zM426.6 76.9h1.1v1.1h-1.1zM428.2 78.5h1.1v1.1h-1.1zM429.8 80.1h1.1v1.1h-1.1zM431.4 81.7h1.1v1.1h-1.1zM433.0 83.3h1.1v1.1h-1.1zM434.6 85.0h1.1v1.1h-1.1zM436.2 86.7h1.1v1.1h-1.1zM437.8 88.4h1.1v1.1h-1.1zM439.4 90.2h1.1v1.1h-1.1zM441.0 92.0h1.1v1.1h-1.1zM442.6 94.0h1.1v1.1h-1.1zM444.2 96.1h1.1v1.1h-1.1zM445.8 98.3h1.1v1.1h-1.1zM447.4 100.7h1.1v1.1h-1.1zM449.0 103.2h1.1v1.1h-1.1zM450.6 105.7h1.1v1.1h-1.1zM452.2 108.4h1.1v1.1h-1.1zM453.8 111.2h1.1v1.1h-1.1zM455.4 114.0h1.1v1.1h-1.1zM457.0 116.8h1.1v1.1h-1.1zM458.6 119.7h1.1v1.1h-1.1zM460.2 122.9h1.1v1.1h-1.1zM461.8 126.2h1.1v1.1h-1.1zM463.4 129.7h1.1v1.1h-1.1z" fill="#ececec" stroke="#8f8f8f" stroke-width="0.25"/>
<path d="M433.1 62.7h1.1v1.1h-1.1zM434.8 64.3h1.1v1.1h-1.1zM436.4 66.1h1.1v1.1h-1.1zM438.0 67.7h1.1v1.1h-1.1zM439.6 69.4h1.1v1.1h-1.1zM441.2 71.1h1.1v1.1h-1.1zM442.8 72.6h1.1v1.1h-1.1zM444.4 74.1h1.1v1.1h-1.1zM446.0 75.6h1.1v1.1h-1.1zM447.6 77.0h1.1v1.1h-1.1zM449.2 78.4h1.1v1.1h-1.1zM450.8 79.9h1.1v1.1h-1.1zM452.4 81.3h1.1v1.1h-1.1zM454.0 82.7h1.1v1.1h-1.1zM455.6 84.2h1.1v1.1h-1.1zM457.2 85.6h1.1v1.1h-1.1zM458.8 87.1h1.1v1.1h-1.1zM460.4 88.5h1.1v1.1h-1.1zM462.0 90.0h1.1v1.1h-1.1zM463.6 91.4h1.1v1.1h-1.1zM465.2 92.8h1.1v1.1h-1.1zM466.8 94.2h1.1v1.1h-1.1zM468.4 95.7h1.1v1.1h-1.1zM470.0 97.1h1.1v1.1h-1.1zM471.6 98.5h1.1v1.1h-1.1zM473.2 100.0h1.1v1.1h-1.1zM474.8 101.4h1.1v1.1h-1.1zM476.4 102.8h1.1v1.1h-1.1zM478.0 104.3h1.1v1.1h-1.1zM479.6 105.8h1.1v1.1h-1.1zM481.2 107.2h1.1v1.1h-1.1zM482.8 108.7h1.1v1.1h-1.1zM484.4 110.2h1.1v1.1h-1.1zM486.0 111.8h1.1v1.1h-1.1zM487.6 113.6h1.1v1.1h-1.1zM489.2 115.6h1.1v1.1h-1.1zM490.8 117.7h1.1v1.1h-1.1zM492.4 119.9h1.1v1.1h-1.1zM494.0 122.3h1.1v1.1h-1.1zM495.6 124.6h1.1v1.1h-1.1zM497.2 127.0h1.1v1.1h-1.1zM498.8 129.4h1.1v1.1h-1.1zM500.4 131.9h1.1v1.1h-1.1zM502.0 134.6h1.1v1.1h-1.1zM503.6 137.5h1.1v1.1h-1.1zM505.2 140.5h1.1v1.1h-1.1zM506.8 143.7h1.1v1.1h-1.1zM508.4 146.9h1.1v1.1h-1.1z" fill="#ececec" stroke="#8f8f8f" stroke-width="0.25"/>
<path d="M308.8 20.3h1.1v1.1h-1.1zM310.4 22.8h1.1v1.1h-1.1zM312.1 25.3h1.1v1.1h-1.1zM313.7 27.7h1.1v1.1h-1.1zM315.3 30.1h1.1v1.1h-1.1zM316.9 32.5h1.1v1.1h-1.1zM318.5 34.8h1.1v1.1h-1.1zM320.1 37.0h1.1v1.1h-1.1zM321.7 39.1h1.1v1.1h-1.1zM323.3 41.1h1.1v1.1h-1.1zM324.9 43.2h1.1v1.1h-1.1zM326.5 45.2h1.1v1.1h-1.1zM328.1 47.2h1.1v1.1h-1.1zM329.7 49.2h1.1v1.1h-1.1zM331.3 51.2h1.1v1.1h-1.1zM332.9 53.1h1.1v1.1h-1.1zM334.5 55.0h1.1v1.1h-1.1zM336.1 56.9h1.1v1.1h-1.1zM337.7 58.6h1.1v1.1h-1.1zM339.3 60.2h1.1v1.1h-1.1zM340.9 61.6h1.1v1.1h-1.1zM342.5 63.1h1.1v1.1h-1.1zM344.1 64.7h1.1v1.1h-1.1zM345.7 66.5h1.1v1.1h-1.1zM347.3 68.7h1.1v1.1h-1.1zM348.9 71.7h1.1v1.1h-1.1zM350.5 75.0h1.1v1.1h-1.1zM352.1 77.9h1.1v1.1h-1.1zM353.7 80.1h1.1v1.1h-1.1zM355.3 82.2h1.1v1.1h-1.1zM356.9 84.8h1.1v1.1h-1.1zM358.5 87.8h1.1v1.1h-1.1zM360.1 91.0h1.1v1.1h-1.1zM361.7 94.4h1.1v1.1h-1.1zM363.3 98.2h1.1v1.1h-1.1zM364.9 102.4h1.1v1.1h-1.1z" fill="#ececec" stroke="#8f8f8f" stroke-width="0.25"/>
<polygon points="309.4,20.9 310.4,22.4 311.8,24.6 313.5,27.1 315.3,29.9 317.0,32.5 318.7,34.9 320.2,37.0 321.8,39.1 323.4,41.1 324.9,43.1 326.4,45.1 328.0,47.0 329.6,48.9 331.1,50.9 332.6,52.8 334.2,54.6 335.7,56.5 337.3,58.2 338.9,59.8 340.5,61.4 342.2,62.9 343.8,64.4 345.3,65.9 346.6,67.5 347.8,69.2 348.8,71.0 349.7,72.8 350.5,74.6 351.4,76.3 352.2,77.8 353.0,79.0 353.8,80.1 354.5,81.0 355.2,81.9 356.0,83.0 356.8,84.3 357.7,85.9 358.7,87.7 359.7,89.7 360.6,91.7 361.6,93.6 362.4,95.4 363.2,97.2 363.9,99.0 364.6,100.8 365.2,102.4 365.7,103.8 366.1,104.8 366.1,104.8 366.2,172.4 309.4,155.0" fill="rgba(244,210,218,0.85)" />
<line x1="309.4" y1="155.0" x2="366.1" y2="152.9" stroke="rgba(120,100,110,0.35)" stroke-width="0.5" />
<line x1="366.1" y1="152.9" x2="433.6" y2="149.6" stroke="rgba(110,110,130,0.35)" stroke-width="0.5" />
<line x1="309.4" y1="10.5" x2="309.4" y2="155.0" stroke="#333" stroke-width="0.9" />
<line x1="309.4" y1="155.0" x2="366.2" y2="172.4" stroke="#333" stroke-width="0.9" />
<line x1="366.2" y1="172.4" x2="510.5" y2="162.2" stroke="#333" stroke-width="0.9" />
<line x1="306.4" y1="144.7" x2="309.4" y2="144.7" stroke="#222" stroke-width="0.8" />
<text x="304.6" y="147.3" font-size="7.7" text-anchor="end" font-weight="bold" font-style="normal" >100</text>
<line x1="306.4" y1="124.0" x2="309.4" y2="124.0" stroke="#222" stroke-width="0.8" />
<text x="304.6" y="126.6" font-size="7.7" text-anchor="end" font-weight="bold" font-style="normal" >200</text>
<line x1="306.4" y1="103.4" x2="309.4" y2="103.4" stroke="#222" stroke-width="0.8" />
<text x="304.6" y="106.0" font-size="7.7" text-anchor="end" font-weight="bold" font-style="normal" >300</text>
<line x1="306.4" y1="82.8" x2="309.4" y2="82.8" stroke="#222" stroke-width="0.8" />
<text x="304.6" y="85.3" font-size="7.7" text-anchor="end" font-weight="bold" font-style="normal" >400</text>
<line x1="306.4" y1="62.1" x2="309.4" y2="62.1" stroke="#222" stroke-width="0.8" />
<text x="304.6" y="64.7" font-size="7.7" text-anchor="end" font-weight="bold" font-style="normal" >500</text>
<line x1="306.4" y1="41.5" x2="309.4" y2="41.5" stroke="#222" stroke-width="0.8" />
<text x="304.6" y="44.1" font-size="7.7" text-anchor="end" font-weight="bold" font-style="normal" >600</text>
<line x1="306.4" y1="20.8" x2="309.4" y2="20.8" stroke="#222" stroke-width="0.8" />
<text x="304.6" y="23.4" font-size="7.7" text-anchor="end" font-weight="bold" font-style="normal" >700</text>
<line x1="309.4" y1="155.0" x2="308.6" y2="158.0" stroke="#222" stroke-width="0.8" />
<text x="309.9" y="165.6" font-size="7.7" text-anchor="middle" font-weight="bold" font-style="normal" >4</text>
<line x1="323.6" y1="159.3" x2="322.8" y2="162.3" stroke="#222" stroke-width="0.8" />
<text x="321.1" y="170.2" font-size="7.7" text-anchor="middle" font-weight="bold" font-style="normal" >3</text>
<line x1="337.8" y1="163.7" x2="337.0" y2="166.7" stroke="#222" stroke-width="0.8" />
<text x="334.5" y="175.5" font-size="7.7" text-anchor="middle" font-weight="bold" font-style="normal" >2</text>
<line x1="352.0" y1="168.1" x2="351.2" y2="171.1" stroke="#222" stroke-width="0.8" />
<text x="349.5" y="180.3" font-size="7.7" text-anchor="middle" font-weight="bold" font-style="normal" >1</text>
<line x1="366.2" y1="172.4" x2="365.4" y2="175.4" stroke="#222" stroke-width="0.8" />
<text x="367.0" y="186.5" font-size="7.7" text-anchor="middle" font-weight="bold" font-style="normal" >0</text>
<line x1="316.5" y1="157.2" x2="316.0" y2="159.0" stroke="#222" stroke-width="0.6" />
<line x1="330.7" y1="161.5" x2="330.2" y2="163.3" stroke="#222" stroke-width="0.6" />
<line x1="344.9" y1="165.9" x2="344.4" y2="167.7" stroke="#222" stroke-width="0.6" />
<line x1="359.1" y1="170.2" x2="358.6" y2="172.0" stroke="#222" stroke-width="0.6" />
<line x1="366.2" y1="172.4" x2="366.5" y2="175.4" stroke="#222" stroke-width="0.8" />
<line x1="417.4" y1="168.8" x2="417.7" y2="171.8" stroke="#222" stroke-width="0.8" />
<text x="418.0" y="182.2" font-size="7.7" text-anchor="middle" font-weight="bold" font-style="normal" >10</text>
<line x1="465.8" y1="165.4" x2="466.1" y2="168.4" stroke="#222" stroke-width="0.8" />
<text x="465.5" y="179.0" font-size="7.7" text-anchor="middle" font-weight="bold" font-style="normal" >20</text>
<line x1="510.5" y1="162.2" x2="510.8" y2="165.2" stroke="#222" stroke-width="0.8" />
<text x="510.8" y="175.0" font-size="7.7" text-anchor="middle" font-weight="bold" font-style="normal" >30</text>
<line x1="392.2" y1="170.6" x2="392.4" y2="172.4" stroke="#222" stroke-width="0.6" />
<line x1="442.0" y1="167.0" x2="442.2" y2="168.8" stroke="#222" stroke-width="0.6" />
<line x1="488.9" y1="163.7" x2="489.1" y2="165.5" stroke="#222" stroke-width="0.6" />
<text x="289.8" y="81.5" font-size="8.55" text-anchor="middle" font-weight="bold" font-style="normal" transform="rotate(-90.0 289.8 81.5)" >Major axis gradient <tspan font-style="italic">k</tspan></text>
<text x="335.7" y="184.7" font-size="8.5" text-anchor="middle" font-weight="bold" font-style="normal" transform="rotate(18.3 335.7 184.7)" ><tspan font-style="italic">Number of load cycles</tspan><tspan font-size="5.5" dy="0.5">*</tspan></text>
<text x="450.6" y="190.4" font-size="8.8" text-anchor="middle" font-weight="bold" font-style="normal" transform="rotate(-4.3 450.6 190.4)" >Fines content /%</text>
<rect x="517.3" y="24.1" width="7.2" height="135.7" fill="url(#cbb)"/>
<line x1="524.5" y1="24.5" x2="527.3" y2="24.5" stroke="#444" stroke-width="0.6" />
<text font-size="6.5" font-weight="bold" style="stroke-width:0.08px" transform="translate(529.9 26.8) scale(0.88 1)">702</text>
<line x1="524.5" y1="38.1" x2="527.3" y2="38.1" stroke="#444" stroke-width="0.6" />
<text font-size="6.5" font-weight="bold" style="stroke-width:0.08px" transform="translate(529.9 40.4) scale(0.88 1)">642</text>
<line x1="524.5" y1="51.6" x2="527.3" y2="51.6" stroke="#444" stroke-width="0.6" />
<text font-size="6.5" font-weight="bold" style="stroke-width:0.08px" transform="translate(529.9 54.0) scale(0.88 1)">582</text>
<line x1="524.5" y1="65.2" x2="527.3" y2="65.2" stroke="#444" stroke-width="0.6" />
<text font-size="6.5" font-weight="bold" style="stroke-width:0.08px" transform="translate(529.9 67.6) scale(0.88 1)">522</text>
<line x1="524.5" y1="78.8" x2="527.3" y2="78.8" stroke="#444" stroke-width="0.6" />
<text font-size="6.5" font-weight="bold" style="stroke-width:0.08px" transform="translate(529.9 81.1) scale(0.88 1)">462</text>
<line x1="524.5" y1="92.4" x2="527.3" y2="92.4" stroke="#444" stroke-width="0.6" />
<text font-size="6.5" font-weight="bold" style="stroke-width:0.08px" transform="translate(529.9 94.7) scale(0.88 1)">402</text>
<line x1="524.5" y1="105.9" x2="527.3" y2="105.9" stroke="#444" stroke-width="0.6" />
<text font-size="6.5" font-weight="bold" style="stroke-width:0.08px" transform="translate(529.9 108.3) scale(0.88 1)">342</text>
<line x1="524.5" y1="119.5" x2="527.3" y2="119.5" stroke="#444" stroke-width="0.6" />
<text font-size="6.5" font-weight="bold" style="stroke-width:0.08px" transform="translate(529.9 121.8) scale(0.88 1)">282</text>
<line x1="524.5" y1="133.1" x2="527.3" y2="133.1" stroke="#444" stroke-width="0.6" />
<text font-size="6.5" font-weight="bold" style="stroke-width:0.08px" transform="translate(529.9 135.4) scale(0.88 1)">222</text>
<line x1="524.5" y1="146.6" x2="527.3" y2="146.6" stroke="#444" stroke-width="0.6" />
<text font-size="6.5" font-weight="bold" style="stroke-width:0.08px" transform="translate(529.9 149.0) scale(0.88 1)">162</text>
<line x1="524.5" y1="160.2" x2="527.3" y2="160.2" stroke="#444" stroke-width="0.6" />
<text font-size="6.5" font-weight="bold" style="stroke-width:0.08px" transform="translate(529.9 162.5) scale(0.88 1)">102</text>
<text x="420.5" y="210.4" font-size="9.66" text-anchor="middle" font-weight="bold" font-style="normal" >(b) <tspan font-style="italic">k</tspan> versus fines content and load cycles</text>
</g>
<g id="panel-c">
<line x1="31.3" y1="352.4" x2="155.0" y2="344.5" stroke="#dedede" stroke-width="0.5" />
<line x1="155.0" y1="344.5" x2="232.5" y2="359.1" stroke="#dedede" stroke-width="0.5" />
<line x1="31.3" y1="319.7" x2="155.0" y2="315.1" stroke="#dedede" stroke-width="0.5" />
<line x1="155.0" y1="315.1" x2="232.5" y2="323.2" stroke="#dedede" stroke-width="0.5" />
<line x1="31.2" y1="287.1" x2="155.0" y2="285.7" stroke="#dedede" stroke-width="0.5" />
<line x1="155.0" y1="285.7" x2="232.6" y2="287.2" stroke="#dedede" stroke-width="0.5" />
<line x1="31.2" y1="254.4" x2="155.0" y2="256.2" stroke="#dedede" stroke-width="0.5" />
<line x1="155.0" y1="256.2" x2="232.6" y2="251.3" stroke="#dedede" stroke-width="0.5" />
<line x1="75.1" y1="362.2" x2="75.0" y2="223.5" stroke="#dedede" stroke-width="0.5" />
<line x1="116.7" y1="359.1" x2="116.7" y2="225.2" stroke="#dedede" stroke-width="0.5" />
<line x1="170.9" y1="359.8" x2="170.9" y2="224.4" stroke="#dedede" stroke-width="0.5" />
<line x1="190.1" y1="364.1" x2="190.1" y2="221.6" stroke="#dedede" stroke-width="0.5" />
<line x1="210.6" y1="368.6" x2="210.7" y2="218.5" stroke="#dedede" stroke-width="0.5" />
<polyline points="31.2,221.7 155.0,226.8 232.6,215.3" fill="none" stroke="#4a4a4a" stroke-width="0.8" />
<line x1="232.6" y1="215.3" x2="232.5" y2="373.5" stroke="#666" stroke-width="0.8" />
<line x1="155.0" y1="226.8" x2="155.0" y2="356.3" stroke="#4a4a4a" stroke-width="0.7" />
<line x1="31.3" y1="365.5" x2="155.0" y2="356.3" stroke="#aaa" stroke-width="0.5" />
<line x1="155.0" y1="356.3" x2="232.5" y2="373.5" stroke="#888" stroke-width="0.6" />
<polygon points="88.6,367.0 139.6,364.3 179.0,361.4 232.5,373.5 88.6,384.0" fill="#e6e3f2" />
<clipPath id="fcc"><polygon points="88.6,367.0 139.6,364.3 179.0,361.4 232.5,373.5 88.6,384.0"/></clipPath><g clip-path="url(#fcc)">
<line x1="139.7" y1="380.3" x2="75.1" y2="362.2" stroke="#d4d4dc" stroke-width="0.5" />
<line x1="187.9" y1="376.8" x2="116.7" y2="359.1" stroke="#d4d4dc" stroke-width="0.5" />
<line x1="45.6" y1="370.1" x2="170.9" y2="359.8" stroke="#d4d4dc" stroke-width="0.5" />
<line x1="60.0" y1="374.8" x2="190.1" y2="364.1" stroke="#d4d4dc" stroke-width="0.5" />
<line x1="74.3" y1="379.4" x2="210.6" y2="368.6" stroke="#d4d4dc" stroke-width="0.5" />
</g>
<polygon points="179.0,361.4 232.5,358.5 232.5,373.5" fill="#f6d9df" />
<clipPath id="cpc"><polygon points="31.3,326.9 31.6,326.6 31.8,326.4 32.1,326.0 32.7,325.5 33.6,324.7 35.0,323.7 37.0,322.3 39.6,320.6 42.6,318.6 45.7,316.6 48.6,314.6 51.3,312.7 53.7,310.9 55.9,309.0 58.0,307.2 60.1,305.4 62.1,303.9 64.1,302.5 66.0,301.4 67.9,300.5 69.6,299.8 71.4,299.1 73.2,298.6 75.1,298.1 77.0,297.7 78.9,297.4 80.9,297.1 82.9,297.0 85.0,296.8 87.2,296.6 89.6,296.5 92.1,296.4 94.8,296.4 97.4,296.3 100.1,296.0 102.6,295.5 105.1,294.8 107.5,293.9 109.9,292.8 112.2,291.6 114.5,290.1 116.7,288.4 118.8,286.4 120.7,284.1 122.6,281.5 124.4,278.8 126.3,276.0 128.2,273.0 130.1,269.9 132.0,266.6 133.9,263.2 135.8,259.7 137.8,256.1 140.0,252.5 142.5,248.6 145.3,244.3 148.2,240.0 151.0,235.9 153.3,232.5 155.0,230.0 155.3,232.2 155.8,235.4 156.3,239.0 156.9,242.9 157.5,246.7 158.0,250.0 158.5,252.8 158.9,255.3 159.3,257.6 159.7,260.0 160.1,262.5 160.6,265.3 161.1,268.4 161.6,271.7 162.1,275.2 162.6,278.8 163.2,282.3 163.7,285.8 164.2,289.3 164.8,293.0 165.4,296.6 165.9,300.1 166.5,303.4 167.0,306.3 167.5,308.8 168.0,310.8 168.4,312.7 168.9,314.4 169.4,316.1 169.9,318.0 170.4,320.0 170.9,322.1 171.5,324.2 172.1,326.2 172.7,328.2 173.3,330.0 174.0,331.7 174.7,333.2 175.5,334.6 176.3,336.0 177.1,337.4 178.0,338.7 178.9,340.0 179.8,341.3 180.8,342.5 181.9,343.7 183.1,344.9 184.5,346.0 186.1,347.1 187.8,348.1 189.7,349.1 191.6,350.1 193.8,351.0 196.0,351.8 198.4,352.5 200.8,353.1 203.4,353.7 206.2,354.2 209.0,354.8 212.0,355.3 215.4,355.9 219.3,356.5 223.2,357.1 227.0,357.7 230.2,358.2 232.5,358.5 187.6,360.5 139.6,364.3 88.6,367.0 87.6,366.8 86.3,366.6 84.7,366.4 82.9,366.1 81.2,365.8 79.5,365.5 77.9,365.2 76.3,364.9 74.6,364.6 72.9,364.2 71.3,363.9 69.6,363.5 67.9,363.1 66.2,362.8 64.5,362.4 62.9,362.0 61.2,361.6 59.7,361.1 58.2,360.6 56.9,360.1 55.5,359.5 54.2,358.9 52.9,358.3 51.7,357.6 50.5,356.9 49.2,356.0 48.1,355.2 46.9,354.3 45.8,353.4 44.8,352.6 43.8,351.8 42.9,351.0 42.1,350.3 41.3,349.5 40.5,348.6 39.8,347.7 39.1,346.7 38.5,345.5 37.9,344.3 37.4,343.1 36.8,341.9 36.3,340.7 35.8,339.5 35.3,338.4 34.8,337.2 34.3,336.1 33.8,334.9 33.4,333.8 33.0,332.6 32.6,331.2 32.2,329.9 31.8,328.7 31.5,327.7 31.3,326.9"/></clipPath>
<polygon points="31.3,326.9 31.6,326.6 31.8,326.4 32.1,326.0 32.7,325.5 33.6,324.7 35.0,323.7 37.0,322.3 39.6,320.6 42.6,318.6 45.7,316.6 48.6,314.6 51.3,312.7 53.7,310.9 55.9,309.0 58.0,307.2 60.1,305.4 62.1,303.9 64.1,302.5 66.0,301.4 67.9,300.5 69.6,299.8 71.4,299.1 73.2,298.6 75.1,298.1 77.0,297.7 78.9,297.4 80.9,297.1 82.9,297.0 85.0,296.8 87.2,296.6 89.6,296.5 92.1,296.4 94.8,296.4 97.4,296.3 100.1,296.0 102.6,295.5 105.1,294.8 107.5,293.9 109.9,292.8 112.2,291.6 114.5,290.1 116.7,288.4 118.8,286.4 120.7,284.1 122.6,281.5 124.4,278.8 126.3,276.0 128.2,273.0 130.1,269.9 132.0,266.6 133.9,263.2 135.8,259.7 137.8,256.1 140.0,252.5 142.5,248.6 145.3,244.3 148.2,240.0 151.0,235.9 153.3,232.5 155.0,230.0 155.3,232.2 155.8,235.4 156.3,239.0 156.9,242.9 157.5,246.7 158.0,250.0 158.5,252.8 158.9,255.3 159.3,257.6 159.7,260.0 160.1,262.5 160.6,265.3 161.1,268.4 161.6,271.7 162.1,275.2 162.6,278.8 163.2,282.3 163.7,285.8 164.2,289.3 164.8,293.0 165.4,296.6 165.9,300.1 166.5,303.4 167.0,306.3 167.5,308.8 168.0,310.8 168.4,312.7 168.9,314.4 169.4,316.1 169.9,318.0 170.4,320.0 170.9,322.1 171.5,324.2 172.1,326.2 172.7,328.2 173.3,330.0 174.0,331.7 174.7,333.2 175.5,334.6 176.3,336.0 177.1,337.4 178.0,338.7 178.9,340.0 179.8,341.3 180.8,342.5 181.9,343.7 183.1,344.9 184.5,346.0 186.1,347.1 187.8,348.1 189.7,349.1 191.6,350.1 193.8,351.0 196.0,351.8 198.4,352.5 200.8,353.1 203.4,353.7 206.2,354.2 209.0,354.8 212.0,355.3 215.4,355.9 219.3,356.5 223.2,357.1 227.0,357.7 230.2,358.2 232.5,358.5 187.6,360.5 139.6,364.3 88.6,367.0 87.6,366.8 86.3,366.6 84.7,366.4 82.9,366.1 81.2,365.8 79.5,365.5 77.9,365.2 76.3,364.9 74.6,364.6 72.9,364.2 71.3,363.9 69.6,363.5 67.9,363.1 66.2,362.8 64.5,362.4 62.9,362.0 61.2,361.6 59.7,361.1 58.2,360.6 56.9,360.1 55.5,359.5 54.2,358.9 52.9,358.3 51.7,357.6 50.5,356.9 49.2,356.0 48.1,355.2 46.9,354.3 45.8,353.4 44.8,352.6 43.8,351.8 42.9,351.0 42.1,350.3 41.3,349.5 40.5,348.6 39.8,347.7 39.1,346.7 38.5,345.5 37.9,344.3 37.4,343.1 36.8,341.9 36.3,340.7 35.8,339.5 35.3,338.4 34.8,337.2 34.3,336.1 33.8,334.9 33.4,333.8 33.0,332.6 32.6,331.2 32.2,329.9 31.8,328.7 31.5,327.7 31.3,326.9" fill="url(#gc)" />
<g clip-path="url(#cpc)">
<line x1="25.0" y1="236.4" x2="235.0" y2="236.4" stroke="#002" stroke-width="0.6" opacity="0.28"/>
<line x1="25.0" y1="249.3" x2="235.0" y2="249.3" stroke="#002" stroke-width="0.6" opacity="0.28"/>
<line x1="25.0" y1="262.1" x2="235.0" y2="262.1" stroke="#002" stroke-width="0.6" opacity="0.28"/>
<line x1="25.0" y1="275.0" x2="235.0" y2="275.0" stroke="#002" stroke-width="0.6" opacity="0.28"/>
<line x1="25.0" y1="287.9" x2="235.0" y2="287.9" stroke="#002" stroke-width="0.6" opacity="0.28"/>
<line x1="25.0" y1="300.8" x2="235.0" y2="300.8" stroke="#002" stroke-width="0.6" opacity="0.28"/>
<line x1="25.0" y1="313.7" x2="235.0" y2="313.7" stroke="#002" stroke-width="0.6" opacity="0.28"/>
<line x1="25.0" y1="326.5" x2="235.0" y2="326.5" stroke="#002" stroke-width="0.6" opacity="0.28"/>
<line x1="25.0" y1="339.4" x2="235.0" y2="339.4" stroke="#002" stroke-width="0.6" opacity="0.28"/>
</g>
<path d="M74.5 297.6h1.1v1.1h-1.1zM76.1 306.6h1.1v1.1h-1.1zM77.7 315.2h1.1v1.1h-1.1zM79.3 323.1h1.1v1.1h-1.1zM80.9 329.0h1.1v1.1h-1.1zM82.5 333.4h1.1v1.1h-1.1zM84.1 337.0h1.1v1.1h-1.1zM85.7 339.9h1.1v1.1h-1.1zM87.3 342.3h1.1v1.1h-1.1zM88.9 344.3h1.1v1.1h-1.1zM90.5 346.1h1.1v1.1h-1.1zM92.1 347.6h1.1v1.1h-1.1zM93.7 348.9h1.1v1.1h-1.1zM95.3 350.1h1.1v1.1h-1.1zM96.9 351.1h1.1v1.1h-1.1zM98.5 352.0h1.1v1.1h-1.1zM100.1 352.8h1.1v1.1h-1.1zM101.7 353.5h1.1v1.1h-1.1zM103.3 354.2h1.1v1.1h-1.1zM104.9 354.8h1.1v1.1h-1.1zM106.5 355.3h1.1v1.1h-1.1zM108.1 355.9h1.1v1.1h-1.1zM109.7 356.4h1.1v1.1h-1.1zM111.3 356.9h1.1v1.1h-1.1zM112.9 357.4h1.1v1.1h-1.1zM114.5 357.8h1.1v1.1h-1.1zM116.1 358.2h1.1v1.1h-1.1zM117.7 358.6h1.1v1.1h-1.1zM119.3 359.0h1.1v1.1h-1.1zM120.9 359.4h1.1v1.1h-1.1zM122.5 359.8h1.1v1.1h-1.1zM124.1 360.1h1.1v1.1h-1.1zM125.7 360.5h1.1v1.1h-1.1zM127.3 360.9h1.1v1.1h-1.1zM128.9 361.3h1.1v1.1h-1.1zM130.5 361.7h1.1v1.1h-1.1zM132.1 362.1h1.1v1.1h-1.1zM133.7 362.5h1.1v1.1h-1.1zM135.3 362.9h1.1v1.1h-1.1zM136.9 363.2h1.1v1.1h-1.1zM138.5 363.6h1.1v1.1h-1.1z" fill="#ececec" stroke="#8f8f8f" stroke-width="0.25"/>
<path d="M116.2 287.8h1.1v1.1h-1.1zM117.8 295.4h1.1v1.1h-1.1zM119.3 303.9h1.1v1.1h-1.1zM120.9 312.1h1.1v1.1h-1.1zM122.5 319.3h1.1v1.1h-1.1zM124.1 325.1h1.1v1.1h-1.1zM125.7 329.6h1.1v1.1h-1.1zM127.3 333.2h1.1v1.1h-1.1zM128.9 336.3h1.1v1.1h-1.1zM130.5 339.0h1.1v1.1h-1.1zM132.1 341.1h1.1v1.1h-1.1zM133.7 342.8h1.1v1.1h-1.1zM135.3 344.3h1.1v1.1h-1.1zM136.9 345.6h1.1v1.1h-1.1zM138.5 346.8h1.1v1.1h-1.1zM140.1 347.8h1.1v1.1h-1.1zM141.7 348.7h1.1v1.1h-1.1zM143.3 349.4h1.1v1.1h-1.1zM144.9 350.1h1.1v1.1h-1.1zM146.5 350.8h1.1v1.1h-1.1zM148.1 351.4h1.1v1.1h-1.1zM149.7 351.9h1.1v1.1h-1.1zM151.3 352.4h1.1v1.1h-1.1zM152.9 352.9h1.1v1.1h-1.1zM154.5 353.4h1.1v1.1h-1.1zM156.1 353.8h1.1v1.1h-1.1zM157.7 354.2h1.1v1.1h-1.1zM159.3 354.6h1.1v1.1h-1.1zM160.9 355.0h1.1v1.1h-1.1zM162.5 355.4h1.1v1.1h-1.1zM164.1 355.7h1.1v1.1h-1.1zM165.7 356.1h1.1v1.1h-1.1zM167.3 356.4h1.1v1.1h-1.1zM168.9 356.7h1.1v1.1h-1.1zM170.5 357.1h1.1v1.1h-1.1zM172.1 357.4h1.1v1.1h-1.1zM173.7 357.7h1.1v1.1h-1.1zM175.3 357.9h1.1v1.1h-1.1zM176.9 358.2h1.1v1.1h-1.1zM178.5 358.5h1.1v1.1h-1.1zM180.1 358.8h1.1v1.1h-1.1zM181.7 359.0h1.1v1.1h-1.1zM183.3 359.3h1.1v1.1h-1.1zM184.9 359.6h1.1v1.1h-1.1zM186.5 359.9h1.1v1.1h-1.1z" fill="#ececec" stroke="#8f8f8f" stroke-width="0.25"/>
<path d="M154.4 229.4h1.1v1.1h-1.1zM156.0 240.3h1.1v1.1h-1.1zM157.6 250.7h1.1v1.1h-1.1zM159.2 260.0h1.1v1.1h-1.1zM160.8 269.9h1.1v1.1h-1.1zM162.4 280.7h1.1v1.1h-1.1zM164.0 291.1h1.1v1.1h-1.1zM165.6 301.2h1.1v1.1h-1.1zM167.2 309.5h1.1v1.1h-1.1zM168.8 315.6h1.1v1.1h-1.1zM170.4 321.8h1.1v1.1h-1.1zM172.0 327.5h1.1v1.1h-1.1zM173.6 331.6h1.1v1.1h-1.1zM175.2 334.7h1.1v1.1h-1.1zM176.8 337.3h1.1v1.1h-1.1zM178.4 339.6h1.1v1.1h-1.1zM180.0 341.7h1.1v1.1h-1.1zM181.6 343.5h1.1v1.1h-1.1zM183.2 344.9h1.1v1.1h-1.1zM184.8 346.1h1.1v1.1h-1.1zM186.4 347.1h1.1v1.1h-1.1zM188.0 348.0h1.1v1.1h-1.1zM189.6 348.8h1.1v1.1h-1.1zM191.2 349.6h1.1v1.1h-1.1zM192.8 350.3h1.1v1.1h-1.1zM194.4 350.9h1.1v1.1h-1.1zM196.0 351.4h1.1v1.1h-1.1zM197.6 351.9h1.1v1.1h-1.1zM199.2 352.3h1.1v1.1h-1.1zM200.8 352.7h1.1v1.1h-1.1zM202.4 353.1h1.1v1.1h-1.1zM204.0 353.4h1.1v1.1h-1.1zM205.6 353.7h1.1v1.1h-1.1zM207.2 354.0h1.1v1.1h-1.1zM208.8 354.3h1.1v1.1h-1.1zM210.4 354.6h1.1v1.1h-1.1zM212.0 354.9h1.1v1.1h-1.1zM213.6 355.1h1.1v1.1h-1.1zM215.2 355.4h1.1v1.1h-1.1zM216.8 355.7h1.1v1.1h-1.1zM218.4 355.9h1.1v1.1h-1.1zM220.0 356.2h1.1v1.1h-1.1zM221.6 356.4h1.1v1.1h-1.1zM223.2 356.7h1.1v1.1h-1.1zM224.8 356.9h1.1v1.1h-1.1zM226.4 357.1h1.1v1.1h-1.1zM228.0 357.4h1.1v1.1h-1.1zM229.6 357.6h1.1v1.1h-1.1zM231.2 357.8h1.1v1.1h-1.1z" fill="#ececec" stroke="#8f8f8f" stroke-width="0.25"/>
<path d="M30.8 326.3h1.1v1.1h-1.1zM32.4 331.8h1.1v1.1h-1.1zM34.0 336.1h1.1v1.1h-1.1zM35.6 339.7h1.1v1.1h-1.1zM37.2 343.3h1.1v1.1h-1.1zM38.8 346.4h1.1v1.1h-1.1zM40.4 348.5h1.1v1.1h-1.1zM42.0 350.1h1.1v1.1h-1.1zM43.6 351.5h1.1v1.1h-1.1zM45.2 352.8h1.1v1.1h-1.1zM46.8 354.1h1.1v1.1h-1.1zM48.4 355.2h1.1v1.1h-1.1zM50.0 356.3h1.1v1.1h-1.1zM51.6 357.3h1.1v1.1h-1.1zM53.2 358.1h1.1v1.1h-1.1zM54.8 358.9h1.1v1.1h-1.1zM56.4 359.5h1.1v1.1h-1.1zM58.0 360.1h1.1v1.1h-1.1zM59.6 360.7h1.1v1.1h-1.1zM61.2 361.1h1.1v1.1h-1.1zM62.8 361.6h1.1v1.1h-1.1zM64.4 361.9h1.1v1.1h-1.1zM66.0 362.3h1.1v1.1h-1.1zM67.6 362.6h1.1v1.1h-1.1zM69.2 363.0h1.1v1.1h-1.1zM70.8 363.3h1.1v1.1h-1.1zM72.3 363.7h1.1v1.1h-1.1zM73.9 364.0h1.1v1.1h-1.1zM75.5 364.3h1.1v1.1h-1.1zM77.1 364.6h1.1v1.1h-1.1zM78.7 364.9h1.1v1.1h-1.1zM80.3 365.2h1.1v1.1h-1.1zM81.9 365.5h1.1v1.1h-1.1zM83.5 365.7h1.1v1.1h-1.1zM85.1 366.0h1.1v1.1h-1.1zM86.7 366.2h1.1v1.1h-1.1z" fill="#ececec" stroke="#8f8f8f" stroke-width="0.25"/>
<polygon points="31.3,326.9 31.5,327.7 31.8,328.7 32.2,329.9 32.6,331.2 33.0,332.6 33.4,333.8 33.8,334.9 34.3,336.1 34.8,337.2 35.3,338.4 35.8,339.5 36.3,340.7 36.8,341.9 37.4,343.1 37.9,344.3 38.5,345.5 39.1,346.7 39.8,347.7 40.5,348.6 41.3,349.5 42.1,350.3 42.9,351.0 43.8,351.8 44.8,352.6 45.8,353.4 46.9,354.3 48.1,355.2 49.2,356.0 50.5,356.9 51.7,357.6 52.9,358.3 54.2,358.9 55.5,359.5 56.9,360.1 58.2,360.6 59.7,361.1 61.2,361.6 62.9,362.0 64.5,362.4 66.2,362.8 67.9,363.1 69.6,363.5 71.3,363.9 72.9,364.2 74.6,364.6 76.3,364.9 77.9,365.2 79.5,365.5 81.2,365.8 82.9,366.1 84.7,366.4 86.3,366.6 87.6,366.8 88.6,367.0 88.6,384.0 31.3,365.5" fill="rgba(244,210,218,0.85)" />
<line x1="31.2" y1="221.7" x2="31.3" y2="365.5" stroke="#333" stroke-width="0.9" />
<line x1="31.3" y1="365.5" x2="88.6" y2="384.0" stroke="#333" stroke-width="0.9" />
<line x1="88.6" y1="384.0" x2="232.5" y2="373.5" stroke="#333" stroke-width="0.9" />
<line x1="28.3" y1="352.4" x2="31.3" y2="352.4" stroke="#222" stroke-width="0.8" />
<text x="26.5" y="355.0" font-size="7.7" text-anchor="end" font-weight="bold" font-style="normal" >0.00</text>
<line x1="28.3" y1="319.7" x2="31.3" y2="319.7" stroke="#222" stroke-width="0.8" />
<text x="26.5" y="322.3" font-size="7.7" text-anchor="end" font-weight="bold" font-style="normal" >0.05</text>
<line x1="28.2" y1="287.1" x2="31.2" y2="287.1" stroke="#222" stroke-width="0.8" />
<text x="26.4" y="289.7" font-size="7.7" text-anchor="end" font-weight="bold" font-style="normal" >0.10</text>
<line x1="28.2" y1="254.4" x2="31.2" y2="254.4" stroke="#222" stroke-width="0.8" />
<text x="26.4" y="257.0" font-size="7.7" text-anchor="end" font-weight="bold" font-style="normal" >0.15</text>
<line x1="28.2" y1="221.7" x2="31.2" y2="221.7" stroke="#222" stroke-width="0.8" />
<text x="26.4" y="224.3" font-size="7.7" text-anchor="end" font-weight="bold" font-style="normal" >0.20</text>
<line x1="31.3" y1="365.5" x2="30.5" y2="368.5" stroke="#222" stroke-width="0.8" />
<text x="28.9" y="375.1" font-size="7.7" text-anchor="middle" font-weight="bold" font-style="normal" >0</text>
<line x1="45.6" y1="370.1" x2="44.8" y2="373.1" stroke="#222" stroke-width="0.8" />
<text x="39.8" y="379.4" font-size="7.7" text-anchor="middle" font-weight="bold" font-style="normal" >1</text>
<line x1="60.0" y1="374.8" x2="59.2" y2="377.8" stroke="#222" stroke-width="0.8" />
<text x="52.9" y="384.4" font-size="7.7" text-anchor="middle" font-weight="bold" font-style="normal" >2</text>
<line x1="74.3" y1="379.4" x2="73.5" y2="382.4" stroke="#222" stroke-width="0.8" />
<text x="67.8" y="389.1" font-size="7.7" text-anchor="middle" font-weight="bold" font-style="normal" >3</text>
<line x1="88.6" y1="384.0" x2="87.8" y2="387.0" stroke="#222" stroke-width="0.8" />
<text x="86.2" y="395.0" font-size="7.7" text-anchor="middle" font-weight="bold" font-style="normal" >4</text>
<line x1="38.5" y1="367.8" x2="38.0" y2="369.6" stroke="#222" stroke-width="0.6" />
<line x1="52.8" y1="372.4" x2="52.3" y2="374.2" stroke="#222" stroke-width="0.6" />
<line x1="67.1" y1="377.1" x2="66.6" y2="378.9" stroke="#222" stroke-width="0.6" />
<line x1="81.4" y1="381.7" x2="80.9" y2="383.5" stroke="#222" stroke-width="0.6" />
<line x1="88.6" y1="384.0" x2="88.9" y2="387.0" stroke="#222" stroke-width="0.8" />
<text x="91.8" y="395.0" font-size="7.7" text-anchor="middle" font-weight="bold" font-style="normal" >0</text>
<line x1="139.7" y1="380.3" x2="140.0" y2="383.3" stroke="#222" stroke-width="0.8" />
<text x="143.4" y="391.4" font-size="7.7" text-anchor="middle" font-weight="bold" font-style="normal" >10</text>
<line x1="187.9" y1="376.8" x2="188.2" y2="379.8" stroke="#222" stroke-width="0.8" />
<text x="190.5" y="387.9" font-size="7.7" text-anchor="middle" font-weight="bold" font-style="normal" >20</text>
<line x1="232.5" y1="373.5" x2="232.8" y2="376.5" stroke="#222" stroke-width="0.8" />
<text x="236.2" y="382.6" font-size="7.7" text-anchor="middle" font-weight="bold" font-style="normal" >30</text>
<line x1="114.5" y1="382.1" x2="114.7" y2="383.9" stroke="#222" stroke-width="0.6" />
<line x1="164.1" y1="378.5" x2="164.3" y2="380.3" stroke="#222" stroke-width="0.6" />
<line x1="210.9" y1="375.1" x2="211.1" y2="376.9" stroke="#222" stroke-width="0.6" />
<text x="8.9" y="292.8" font-size="8.6" text-anchor="middle" font-weight="bold" font-style="normal" transform="rotate(-90.0 8.9 292.8)" >Center offset <tspan font-style="italic">d</tspan>/%</text>
<text x="54.7" y="395.3" font-size="8.5" text-anchor="middle" font-weight="bold" font-style="normal" transform="rotate(18.3 54.7 395.3)" ><tspan font-style="italic">Number of load cycles</tspan><tspan font-size="5.5" dy="0.5">*</tspan></text>
<text x="172.0" y="400.0" font-size="8.8" text-anchor="middle" font-weight="bold" font-style="normal" transform="rotate(-4.3 172.0 400.0)" >Fines content /%</text>
<rect x="234.8" y="238.2" width="7.5" height="135.8" fill="url(#cbc)"/>
<line x1="242.3" y1="238.6" x2="245.1" y2="238.6" stroke="#444" stroke-width="0.6" />
<text font-size="5.5" font-weight="bold" style="stroke-width:0.08px" transform="translate(247.1 240.6) scale(1 1)">2.0x10<tspan font-size="4.2" dy="-1.9">-1</tspan></text>
<line x1="242.3" y1="252.2" x2="245.1" y2="252.2" stroke="#444" stroke-width="0.6" />
<text font-size="5.5" font-weight="bold" style="stroke-width:0.08px" transform="translate(247.1 254.2) scale(1 1)">1.8x10<tspan font-size="4.2" dy="-1.9">-1</tspan></text>
<line x1="242.3" y1="265.8" x2="245.1" y2="265.8" stroke="#444" stroke-width="0.6" />
<text font-size="5.5" font-weight="bold" style="stroke-width:0.08px" transform="translate(247.1 267.8) scale(1 1)">1.6x10<tspan font-size="4.2" dy="-1.9">-1</tspan></text>
<line x1="242.3" y1="279.3" x2="245.1" y2="279.3" stroke="#444" stroke-width="0.6" />
<text font-size="5.5" font-weight="bold" style="stroke-width:0.08px" transform="translate(247.1 281.4) scale(1 1)">1.4x10<tspan font-size="4.2" dy="-1.9">-1</tspan></text>
<line x1="242.3" y1="292.9" x2="245.1" y2="292.9" stroke="#444" stroke-width="0.6" />
<text font-size="5.5" font-weight="bold" style="stroke-width:0.08px" transform="translate(247.1 294.9) scale(1 1)">1.2x10<tspan font-size="4.2" dy="-1.9">-1</tspan></text>
<line x1="242.3" y1="306.5" x2="245.1" y2="306.5" stroke="#444" stroke-width="0.6" />
<text font-size="5.5" font-weight="bold" style="stroke-width:0.08px" transform="translate(247.1 308.5) scale(1 1)">10.0x10<tspan font-size="4.2" dy="-1.9">-2</tspan></text>
<line x1="242.3" y1="320.1" x2="245.1" y2="320.1" stroke="#444" stroke-width="0.6" />
<text font-size="5.5" font-weight="bold" style="stroke-width:0.08px" transform="translate(247.1 322.1) scale(1 1)">8.0x10<tspan font-size="4.2" dy="-1.9">-2</tspan></text>
<line x1="242.3" y1="333.7" x2="245.1" y2="333.7" stroke="#444" stroke-width="0.6" />
<text font-size="5.5" font-weight="bold" style="stroke-width:0.08px" transform="translate(247.1 335.7) scale(1 1)">6.0x10<tspan font-size="4.2" dy="-1.9">-2</tspan></text>
<line x1="242.3" y1="347.2" x2="245.1" y2="347.2" stroke="#444" stroke-width="0.6" />
<text font-size="5.5" font-weight="bold" style="stroke-width:0.08px" transform="translate(247.1 349.3) scale(1 1)">4.0x10<tspan font-size="4.2" dy="-1.9">-2</tspan></text>
<line x1="242.3" y1="360.8" x2="245.1" y2="360.8" stroke="#444" stroke-width="0.6" />
<text font-size="5.5" font-weight="bold" style="stroke-width:0.08px" transform="translate(247.1 362.8) scale(1 1)">2.0x10<tspan font-size="4.2" dy="-1.9">-2</tspan></text>
<line x1="242.3" y1="374.4" x2="245.1" y2="374.4" stroke="#444" stroke-width="0.6" />
<text font-size="5.5" font-weight="bold" style="stroke-width:0.08px" transform="translate(247.1 376.4) scale(1 1)">0.0</text>
<text x="135.0" y="423.0" font-size="9.66" text-anchor="middle" font-weight="bold" font-style="normal" >(c) <tspan font-style="italic">d</tspan> versus fines content and load cycles</text>
</g>
<g id="panel-d">
<line x1="310.0" y1="352.4" x2="434.4" y2="344.8" stroke="#dedede" stroke-width="0.5" />
<line x1="434.4" y1="344.8" x2="512.0" y2="359.2" stroke="#dedede" stroke-width="0.5" />
<line x1="310.1" y1="329.3" x2="434.4" y2="324.3" stroke="#dedede" stroke-width="0.5" />
<line x1="434.4" y1="324.3" x2="512.1" y2="333.6" stroke="#dedede" stroke-width="0.5" />
<line x1="310.1" y1="306.1" x2="434.4" y2="303.7" stroke="#dedede" stroke-width="0.5" />
<line x1="434.4" y1="303.7" x2="512.2" y2="308.0" stroke="#dedede" stroke-width="0.5" />
<line x1="310.1" y1="283.0" x2="434.4" y2="283.2" stroke="#dedede" stroke-width="0.5" />
<line x1="434.4" y1="283.2" x2="512.3" y2="282.4" stroke="#dedede" stroke-width="0.5" />
<line x1="310.1" y1="259.9" x2="434.4" y2="262.7" stroke="#dedede" stroke-width="0.5" />
<line x1="434.4" y1="262.7" x2="512.4" y2="256.8" stroke="#dedede" stroke-width="0.5" />
<line x1="310.2" y1="236.8" x2="434.4" y2="242.1" stroke="#dedede" stroke-width="0.5" />
<line x1="434.4" y1="242.1" x2="512.5" y2="231.2" stroke="#dedede" stroke-width="0.5" />
<line x1="354.5" y1="362.1" x2="354.6" y2="225.0" stroke="#dedede" stroke-width="0.5" />
<line x1="396.0" y1="359.1" x2="396.1" y2="227.3" stroke="#dedede" stroke-width="0.5" />
<line x1="451.0" y1="360.0" x2="451.1" y2="226.4" stroke="#dedede" stroke-width="0.5" />
<line x1="469.5" y1="364.1" x2="469.8" y2="223.0" stroke="#dedede" stroke-width="0.5" />
<line x1="490.0" y1="368.6" x2="490.5" y2="219.3" stroke="#dedede" stroke-width="0.5" />
<polyline points="310.2,222.5 434.4,229.4 512.6,215.3" fill="none" stroke="#4a4a4a" stroke-width="0.8" />
<line x1="512.6" y1="215.3" x2="511.9" y2="373.5" stroke="#666" stroke-width="0.8" />
<line x1="434.4" y1="229.4" x2="434.4" y2="356.3" stroke="#4a4a4a" stroke-width="0.7" />
<line x1="310.0" y1="365.3" x2="434.4" y2="356.3" stroke="#aaa" stroke-width="0.5" />
<line x1="434.4" y1="356.3" x2="511.9" y2="373.5" stroke="#888" stroke-width="0.6" />
<polygon points="367.0,366.5 419.0,364.3 458.0,361.5 511.9,373.5 367.0,384.2" fill="#e6e3f2" />
<clipPath id="fcd"><polygon points="367.0,366.5 419.0,364.3 458.0,361.5 511.9,373.5 367.0,384.2"/></clipPath><g clip-path="url(#fcd)">
<line x1="418.4" y1="380.4" x2="354.5" y2="362.1" stroke="#d4d4dc" stroke-width="0.5" />
<line x1="467.0" y1="376.8" x2="396.0" y2="359.1" stroke="#d4d4dc" stroke-width="0.5" />
<line x1="324.2" y1="370.0" x2="451.0" y2="360.0" stroke="#d4d4dc" stroke-width="0.5" />
<line x1="338.5" y1="374.8" x2="469.5" y2="364.1" stroke="#d4d4dc" stroke-width="0.5" />
<line x1="352.8" y1="379.5" x2="490.0" y2="368.6" stroke="#d4d4dc" stroke-width="0.5" />
</g>
<polygon points="458.0,361.5 511.6,358.7 511.9,373.5" fill="#f6d9df" />
<clipPath id="cpd"><polygon points="310.7,326.0 310.9,325.8 311.1,325.6 311.3,325.4 311.7,325.0 312.4,324.5 313.5,323.7 315.1,322.7 317.0,321.4 319.3,320.0 321.7,318.5 324.1,316.9 326.3,315.3 328.4,313.6 330.5,311.8 332.5,309.9 334.6,308.0 336.8,306.1 339.1,304.3 341.6,302.5 344.2,300.5 347.0,298.6 349.7,296.8 352.2,295.2 354.5,294.0 356.4,293.1 358.0,292.6 359.4,292.2 360.9,292.0 362.6,291.9 364.7,291.7 367.3,291.6 370.3,291.7 373.5,291.9 376.8,292.0 379.9,292.0 382.7,291.7 385.2,291.2 387.6,290.7 389.9,290.0 392.0,289.1 394.0,288.0 396.0,286.6 397.8,284.8 399.5,282.7 401.2,280.3 402.7,277.8 404.2,275.3 405.8,273.0 407.2,271.0 408.5,269.2 409.8,267.4 411.2,265.5 412.9,263.1 415.0,260.2 417.9,256.2 421.4,251.3 425.3,245.9 429.0,240.7 432.2,236.3 434.4,233.2 434.7,235.0 435.0,237.4 435.5,240.3 436.0,243.5 436.4,246.8 436.9,250.0 437.3,253.2 437.7,256.4 438.1,259.8 438.5,263.3 439.0,266.8 439.5,270.4 440.1,274.2 440.7,278.2 441.4,282.3 442.1,286.3 442.7,290.1 443.3,293.5 443.8,296.4 444.2,298.9 444.5,301.1 444.9,303.3 445.2,305.6 445.7,308.0 446.2,310.7 446.8,313.6 447.4,316.6 448.1,319.5 448.7,322.2 449.4,324.7 450.1,326.8 450.8,328.8 451.5,330.5 452.2,332.2 453.0,333.8 454.0,335.4 455.0,337.1 456.1,338.7 457.3,340.4 458.5,341.9 460.0,343.4 461.6,344.8 463.4,346.1 465.4,347.3 467.6,348.4 469.9,349.5 472.4,350.5 475.0,351.5 477.9,352.5 481.0,353.4 484.2,354.2 487.6,355.0 490.8,355.8 494.0,356.4 497.2,357.0 500.6,357.4 504.0,357.9 507.1,358.2 509.7,358.5 511.6,358.7 467.0,360.7 419.0,364.3 367.0,366.5 366.4,366.4 365.7,366.2 364.7,366.0 363.6,365.7 362.3,365.4 360.8,365.0 359.0,364.6 356.9,364.0 354.5,363.5 352.1,362.9 349.7,362.2 347.4,361.5 345.1,360.7 342.7,359.9 340.4,359.0 338.1,358.1 335.9,357.3 334.0,356.4 332.3,355.6 330.9,354.8 329.5,354.0 328.3,353.3 327.1,352.4 325.9,351.5 324.7,350.5 323.5,349.5 322.4,348.4 321.3,347.3 320.2,346.1 319.2,344.8 318.2,343.4 317.3,341.9 316.3,340.3 315.5,338.6 314.6,337.0 313.9,335.4 313.2,333.7 312.6,331.9 312.0,330.1 311.5,328.4 311.0,327.0 310.7,326.0"/></clipPath>
<polygon points="310.7,326.0 310.9,325.8 311.1,325.6 311.3,325.4 311.7,325.0 312.4,324.5 313.5,323.7 315.1,322.7 317.0,321.4 319.3,320.0 321.7,318.5 324.1,316.9 326.3,315.3 328.4,313.6 330.5,311.8 332.5,309.9 334.6,308.0 336.8,306.1 339.1,304.3 341.6,302.5 344.2,300.5 347.0,298.6 349.7,296.8 352.2,295.2 354.5,294.0 356.4,293.1 358.0,292.6 359.4,292.2 360.9,292.0 362.6,291.9 364.7,291.7 367.3,291.6 370.3,291.7 373.5,291.9 376.8,292.0 379.9,292.0 382.7,291.7 385.2,291.2 387.6,290.7 389.9,290.0 392.0,289.1 394.0,288.0 396.0,286.6 397.8,284.8 399.5,282.7 401.2,280.3 402.7,277.8 404.2,275.3 405.8,273.0 407.2,271.0 408.5,269.2 409.8,267.4 411.2,265.5 412.9,263.1 415.0,260.2 417.9,256.2 421.4,251.3 425.3,245.9 429.0,240.7 432.2,236.3 434.4,233.2 434.7,235.0 435.0,237.4 435.5,240.3 436.0,243.5 436.4,246.8 436.9,250.0 437.3,253.2 437.7,256.4 438.1,259.8 438.5,263.3 439.0,266.8 439.5,270.4 440.1,274.2 440.7,278.2 441.4,282.3 442.1,286.3 442.7,290.1 443.3,293.5 443.8,296.4 444.2,298.9 444.5,301.1 444.9,303.3 445.2,305.6 445.7,308.0 446.2,310.7 446.8,313.6 447.4,316.6 448.1,319.5 448.7,322.2 449.4,324.7 450.1,326.8 450.8,328.8 451.5,330.5 452.2,332.2 453.0,333.8 454.0,335.4 455.0,337.1 456.1,338.7 457.3,340.4 458.5,341.9 460.0,343.4 461.6,344.8 463.4,346.1 465.4,347.3 467.6,348.4 469.9,349.5 472.4,350.5 475.0,351.5 477.9,352.5 481.0,353.4 484.2,354.2 487.6,355.0 490.8,355.8 494.0,356.4 497.2,357.0 500.6,357.4 504.0,357.9 507.1,358.2 509.7,358.5 511.6,358.7 467.0,360.7 419.0,364.3 367.0,366.5 366.4,366.4 365.7,366.2 364.7,366.0 363.6,365.7 362.3,365.4 360.8,365.0 359.0,364.6 356.9,364.0 354.5,363.5 352.1,362.9 349.7,362.2 347.4,361.5 345.1,360.7 342.7,359.9 340.4,359.0 338.1,358.1 335.9,357.3 334.0,356.4 332.3,355.6 330.9,354.8 329.5,354.0 328.3,353.3 327.1,352.4 325.9,351.5 324.7,350.5 323.5,349.5 322.4,348.4 321.3,347.3 320.2,346.1 319.2,344.8 318.2,343.4 317.3,341.9 316.3,340.3 315.5,338.6 314.6,337.0 313.9,335.4 313.2,333.7 312.6,331.9 312.0,330.1 311.5,328.4 311.0,327.0 310.7,326.0" fill="url(#gd)" />
<g clip-path="url(#cpd)">
<line x1="305.0" y1="240.0" x2="515.0" y2="240.0" stroke="#002" stroke-width="0.6" opacity="0.28"/>
<line x1="305.0" y1="252.5" x2="515.0" y2="252.5" stroke="#002" stroke-width="0.6" opacity="0.28"/>
<line x1="305.0" y1="265.0" x2="515.0" y2="265.0" stroke="#002" stroke-width="0.6" opacity="0.28"/>
<line x1="305.0" y1="277.5" x2="515.0" y2="277.5" stroke="#002" stroke-width="0.6" opacity="0.28"/>
<line x1="305.0" y1="289.9" x2="515.0" y2="289.9" stroke="#002" stroke-width="0.6" opacity="0.28"/>
<line x1="305.0" y1="302.4" x2="515.0" y2="302.4" stroke="#002" stroke-width="0.6" opacity="0.28"/>
<line x1="305.0" y1="314.9" x2="515.0" y2="314.9" stroke="#002" stroke-width="0.6" opacity="0.28"/>
<line x1="305.0" y1="327.4" x2="515.0" y2="327.4" stroke="#002" stroke-width="0.6" opacity="0.28"/>
<line x1="305.0" y1="339.9" x2="515.0" y2="339.9" stroke="#002" stroke-width="0.6" opacity="0.28"/>
</g>
<path d="M353.9 293.4h1.1v1.1h-1.1zM355.6 305.2h1.1v1.1h-1.1zM357.2 314.6h1.1v1.1h-1.1zM358.8 322.8h1.1v1.1h-1.1zM360.4 329.2h1.1v1.1h-1.1zM362.0 333.6h1.1v1.1h-1.1zM363.6 337.0h1.1v1.1h-1.1zM365.2 339.8h1.1v1.1h-1.1zM366.8 342.2h1.1v1.1h-1.1zM368.4 344.2h1.1v1.1h-1.1zM370.0 346.0h1.1v1.1h-1.1zM371.6 347.5h1.1v1.1h-1.1zM373.2 348.7h1.1v1.1h-1.1zM374.8 349.8h1.1v1.1h-1.1zM376.4 350.8h1.1v1.1h-1.1zM378.0 351.7h1.1v1.1h-1.1zM379.6 352.5h1.1v1.1h-1.1zM381.2 353.2h1.1v1.1h-1.1zM382.8 353.9h1.1v1.1h-1.1zM384.4 354.5h1.1v1.1h-1.1zM386.0 355.1h1.1v1.1h-1.1zM387.6 355.7h1.1v1.1h-1.1zM389.2 356.2h1.1v1.1h-1.1zM390.8 356.7h1.1v1.1h-1.1zM392.4 357.2h1.1v1.1h-1.1zM394.0 357.7h1.1v1.1h-1.1zM395.6 358.1h1.1v1.1h-1.1zM397.2 358.5h1.1v1.1h-1.1zM398.8 358.9h1.1v1.1h-1.1zM400.4 359.2h1.1v1.1h-1.1zM402.0 359.6h1.1v1.1h-1.1zM403.6 360.0h1.1v1.1h-1.1zM405.2 360.4h1.1v1.1h-1.1zM406.8 360.8h1.1v1.1h-1.1zM408.4 361.2h1.1v1.1h-1.1zM410.0 361.6h1.1v1.1h-1.1zM411.6 362.0h1.1v1.1h-1.1zM413.2 362.4h1.1v1.1h-1.1zM414.8 362.8h1.1v1.1h-1.1zM416.4 363.2h1.1v1.1h-1.1zM418.0 363.6h1.1v1.1h-1.1z" fill="#ececec" stroke="#8f8f8f" stroke-width="0.25"/>
<path d="M395.4 286.1h1.1v1.1h-1.1zM397.1 295.0h1.1v1.1h-1.1zM398.7 303.9h1.1v1.1h-1.1zM400.3 312.1h1.1v1.1h-1.1zM401.9 319.1h1.1v1.1h-1.1zM403.5 325.1h1.1v1.1h-1.1zM405.1 330.4h1.1v1.1h-1.1zM406.7 335.4h1.1v1.1h-1.1zM408.3 340.8h1.1v1.1h-1.1zM409.9 344.6h1.1v1.1h-1.1zM411.5 346.1h1.1v1.1h-1.1zM413.1 346.7h1.1v1.1h-1.1zM414.7 347.1h1.1v1.1h-1.1zM416.3 347.1h1.1v1.1h-1.1zM417.9 347.2h1.1v1.1h-1.1zM419.5 348.3h1.1v1.1h-1.1zM421.1 349.7h1.1v1.1h-1.1zM422.7 350.6h1.1v1.1h-1.1zM424.3 351.3h1.1v1.1h-1.1zM425.9 351.9h1.1v1.1h-1.1zM427.5 352.3h1.1v1.1h-1.1zM429.1 352.8h1.1v1.1h-1.1zM430.7 353.2h1.1v1.1h-1.1zM432.3 353.6h1.1v1.1h-1.1zM433.9 354.0h1.1v1.1h-1.1zM435.5 354.4h1.1v1.1h-1.1zM437.1 354.8h1.1v1.1h-1.1zM438.7 355.2h1.1v1.1h-1.1zM440.3 355.5h1.1v1.1h-1.1zM441.9 355.9h1.1v1.1h-1.1zM443.5 356.3h1.1v1.1h-1.1zM445.1 356.6h1.1v1.1h-1.1zM446.7 356.9h1.1v1.1h-1.1zM448.3 357.2h1.1v1.1h-1.1zM449.9 357.6h1.1v1.1h-1.1zM451.5 357.9h1.1v1.1h-1.1zM453.1 358.1h1.1v1.1h-1.1zM454.7 358.4h1.1v1.1h-1.1zM456.3 358.6h1.1v1.1h-1.1zM457.9 358.9h1.1v1.1h-1.1zM459.5 359.1h1.1v1.1h-1.1zM461.1 359.4h1.1v1.1h-1.1zM462.7 359.6h1.1v1.1h-1.1zM464.3 359.8h1.1v1.1h-1.1zM465.9 360.1h1.1v1.1h-1.1z" fill="#ececec" stroke="#8f8f8f" stroke-width="0.25"/>
<path d="M433.8 232.6h1.1v1.1h-1.1zM435.4 243.2h1.1v1.1h-1.1zM437.1 254.9h1.1v1.1h-1.1zM438.7 267.7h1.1v1.1h-1.1zM440.3 278.1h1.1v1.1h-1.1zM441.9 287.6h1.1v1.1h-1.1zM443.5 297.3h1.1v1.1h-1.1zM445.1 306.9h1.1v1.1h-1.1zM446.7 315.0h1.1v1.1h-1.1zM448.3 322.0h1.1v1.1h-1.1zM449.9 327.2h1.1v1.1h-1.1zM451.5 331.1h1.1v1.1h-1.1zM453.1 334.2h1.1v1.1h-1.1zM454.7 336.8h1.1v1.1h-1.1zM456.3 339.2h1.1v1.1h-1.1zM457.9 341.2h1.1v1.1h-1.1zM459.5 342.9h1.1v1.1h-1.1zM461.1 344.3h1.1v1.1h-1.1zM462.7 345.4h1.1v1.1h-1.1zM464.3 346.4h1.1v1.1h-1.1zM465.9 347.3h1.1v1.1h-1.1zM467.5 348.1h1.1v1.1h-1.1zM469.1 348.8h1.1v1.1h-1.1zM470.7 349.5h1.1v1.1h-1.1zM472.3 350.1h1.1v1.1h-1.1zM473.9 350.7h1.1v1.1h-1.1zM475.5 351.3h1.1v1.1h-1.1zM477.1 351.8h1.1v1.1h-1.1zM478.7 352.3h1.1v1.1h-1.1zM480.3 352.8h1.1v1.1h-1.1zM481.9 353.2h1.1v1.1h-1.1zM483.5 353.6h1.1v1.1h-1.1zM485.1 354.0h1.1v1.1h-1.1zM486.7 354.4h1.1v1.1h-1.1zM488.3 354.8h1.1v1.1h-1.1zM489.9 355.1h1.1v1.1h-1.1zM491.5 355.4h1.1v1.1h-1.1zM493.1 355.8h1.1v1.1h-1.1zM494.7 356.1h1.1v1.1h-1.1zM496.3 356.3h1.1v1.1h-1.1zM497.9 356.6h1.1v1.1h-1.1zM499.5 356.8h1.1v1.1h-1.1zM501.1 357.0h1.1v1.1h-1.1zM502.7 357.2h1.1v1.1h-1.1zM504.3 357.4h1.1v1.1h-1.1zM505.9 357.6h1.1v1.1h-1.1zM507.5 357.7h1.1v1.1h-1.1zM509.1 357.9h1.1v1.1h-1.1zM510.7 358.1h1.1v1.1h-1.1z" fill="#ececec" stroke="#8f8f8f" stroke-width="0.25"/>
<path d="M310.1 325.4h1.1v1.1h-1.1zM311.8 330.6h1.1v1.1h-1.1zM313.4 334.9h1.1v1.1h-1.1zM315.0 338.2h1.1v1.1h-1.1zM316.6 341.1h1.1v1.1h-1.1zM318.2 343.5h1.1v1.1h-1.1zM319.8 345.6h1.1v1.1h-1.1zM321.4 347.4h1.1v1.1h-1.1zM323.0 348.9h1.1v1.1h-1.1zM324.6 350.3h1.1v1.1h-1.1zM326.2 351.6h1.1v1.1h-1.1zM327.8 352.7h1.1v1.1h-1.1zM329.4 353.7h1.1v1.1h-1.1zM331.0 354.6h1.1v1.1h-1.1zM332.6 355.4h1.1v1.1h-1.1zM334.2 356.2h1.1v1.1h-1.1zM335.8 356.9h1.1v1.1h-1.1zM337.4 357.5h1.1v1.1h-1.1zM339.0 358.1h1.1v1.1h-1.1zM340.6 358.8h1.1v1.1h-1.1zM342.2 359.3h1.1v1.1h-1.1zM343.8 359.9h1.1v1.1h-1.1zM345.4 360.5h1.1v1.1h-1.1zM347.0 361.0h1.1v1.1h-1.1zM348.6 361.5h1.1v1.1h-1.1zM350.2 361.9h1.1v1.1h-1.1zM351.8 362.4h1.1v1.1h-1.1zM353.4 362.8h1.1v1.1h-1.1zM355.0 363.2h1.1v1.1h-1.1zM356.6 363.5h1.1v1.1h-1.1zM358.2 363.9h1.1v1.1h-1.1zM359.8 364.3h1.1v1.1h-1.1zM361.4 364.7h1.1v1.1h-1.1zM363.0 365.1h1.1v1.1h-1.1zM364.6 365.5h1.1v1.1h-1.1zM366.2 365.9h1.1v1.1h-1.1z" fill="#ececec" stroke="#8f8f8f" stroke-width="0.25"/>
<polygon points="310.7,326.0 311.0,327.0 311.5,328.4 312.0,330.1 312.6,331.9 313.2,333.7 313.9,335.4 314.6,337.0 315.5,338.6 316.3,340.3 317.3,341.9 318.2,343.4 319.2,344.8 320.2,346.1 321.3,347.3 322.4,348.4 323.5,349.5 324.7,350.5 325.9,351.5 327.1,352.4 328.3,353.3 329.5,354.0 330.9,354.8 332.3,355.6 334.0,356.4 335.9,357.3 338.1,358.1 340.4,359.0 342.7,359.9 345.1,360.7 347.4,361.5 349.7,362.2 352.1,362.9 354.5,363.5 356.9,364.0 359.0,364.6 360.8,365.0 362.3,365.4 363.6,365.7 364.7,366.0 365.7,366.2 366.4,366.4 367.0,366.5 367.0,384.2 310.0,365.3" fill="rgba(244,210,218,0.85)" />
<line x1="310.2" y1="222.5" x2="310.0" y2="365.3" stroke="#333" stroke-width="0.9" />
<line x1="310.0" y1="365.3" x2="367.0" y2="384.2" stroke="#333" stroke-width="0.9" />
<line x1="367.0" y1="384.2" x2="511.9" y2="373.5" stroke="#333" stroke-width="0.9" />
<line x1="307.0" y1="352.4" x2="310.0" y2="352.4" stroke="#222" stroke-width="0.8" />
<text x="305.2" y="355.0" font-size="7.7" text-anchor="end" font-weight="bold" font-style="normal" >0.00</text>
<line x1="307.1" y1="329.3" x2="310.1" y2="329.3" stroke="#222" stroke-width="0.8" />
<text x="305.3" y="331.9" font-size="7.7" text-anchor="end" font-weight="bold" font-style="normal" >0.05</text>
<line x1="307.1" y1="306.1" x2="310.1" y2="306.1" stroke="#222" stroke-width="0.8" />
<text x="305.3" y="308.7" font-size="7.7" text-anchor="end" font-weight="bold" font-style="normal" >0.10</text>
<line x1="307.1" y1="283.0" x2="310.1" y2="283.0" stroke="#222" stroke-width="0.8" />
<text x="305.3" y="285.6" font-size="7.7" text-anchor="end" font-weight="bold" font-style="normal" >0.15</text>
<line x1="307.1" y1="259.9" x2="310.1" y2="259.9" stroke="#222" stroke-width="0.8" />
<text x="305.3" y="262.5" font-size="7.7" text-anchor="end" font-weight="bold" font-style="normal" >0.20</text>
<line x1="307.2" y1="236.8" x2="310.2" y2="236.8" stroke="#222" stroke-width="0.8" />
<text x="305.4" y="239.4" font-size="7.7" text-anchor="end" font-weight="bold" font-style="normal" >0.25</text>
<line x1="310.0" y1="365.3" x2="309.2" y2="368.3" stroke="#222" stroke-width="0.8" />
<text x="308.5" y="376.1" font-size="7.7" text-anchor="middle" font-weight="bold" font-style="normal" >0</text>
<line x1="324.2" y1="370.0" x2="323.4" y2="373.0" stroke="#222" stroke-width="0.8" />
<text x="320.0" y="380.9" font-size="7.7" text-anchor="middle" font-weight="bold" font-style="normal" >1</text>
<line x1="338.5" y1="374.8" x2="337.7" y2="377.8" stroke="#222" stroke-width="0.8" />
<text x="332.6" y="385.8" font-size="7.7" text-anchor="middle" font-weight="bold" font-style="normal" >2</text>
<line x1="352.8" y1="379.5" x2="351.9" y2="382.5" stroke="#222" stroke-width="0.8" />
<text x="347.4" y="390.3" font-size="7.7" text-anchor="middle" font-weight="bold" font-style="normal" >3</text>
<line x1="367.0" y1="384.2" x2="366.2" y2="387.2" stroke="#222" stroke-width="0.8" />
<text x="364.8" y="396.2" font-size="7.7" text-anchor="middle" font-weight="bold" font-style="normal" >4</text>
<line x1="317.1" y1="367.7" x2="316.6" y2="369.5" stroke="#222" stroke-width="0.6" />
<line x1="331.4" y1="372.4" x2="330.9" y2="374.2" stroke="#222" stroke-width="0.6" />
<line x1="345.6" y1="377.1" x2="345.1" y2="378.9" stroke="#222" stroke-width="0.6" />
<line x1="359.9" y1="381.8" x2="359.4" y2="383.6" stroke="#222" stroke-width="0.6" />
<line x1="367.0" y1="384.2" x2="367.3" y2="387.2" stroke="#222" stroke-width="0.8" />
<text x="370.6" y="396.2" font-size="7.7" text-anchor="middle" font-weight="bold" font-style="normal" >0</text>
<line x1="418.4" y1="380.4" x2="418.7" y2="383.4" stroke="#222" stroke-width="0.8" />
<text x="422.6" y="392.5" font-size="7.7" text-anchor="middle" font-weight="bold" font-style="normal" >10</text>
<line x1="467.0" y1="376.8" x2="467.3" y2="379.8" stroke="#222" stroke-width="0.8" />
<text x="469.5" y="388.4" font-size="7.7" text-anchor="middle" font-weight="bold" font-style="normal" >20</text>
<line x1="511.9" y1="373.5" x2="512.2" y2="376.5" stroke="#222" stroke-width="0.8" />
<text x="515.0" y="383.6" font-size="7.7" text-anchor="middle" font-weight="bold" font-style="normal" >30</text>
<line x1="393.1" y1="382.3" x2="393.3" y2="384.1" stroke="#222" stroke-width="0.6" />
<line x1="443.1" y1="378.6" x2="443.3" y2="380.4" stroke="#222" stroke-width="0.6" />
<line x1="490.2" y1="375.1" x2="490.4" y2="376.9" stroke="#222" stroke-width="0.6" />
<text x="285.4" y="296.5" font-size="8.8" text-anchor="middle" font-weight="bold" font-style="normal" transform="rotate(-90.0 285.4 296.5)" >Residual strain <tspan font-style="italic">&#949;<tspan font-size="7" dy="1.5">sp</tspan></tspan><tspan dy="-1.5"> /%</tspan></text>
<text x="335.0" y="396.0" font-size="8.5" text-anchor="middle" font-weight="bold" font-style="normal" transform="rotate(18.3 335.0 396.0)" ><tspan font-style="italic">Number of load cycles</tspan><tspan font-size="5.5" dy="0.5">*</tspan></text>
<text x="452.0" y="399.7" font-size="8.8" text-anchor="middle" font-weight="bold" font-style="normal" transform="rotate(-4.3 452.0 399.7)" >Fines content /%</text>
<rect x="515.0" y="238.5" width="7.3" height="135.3" fill="url(#cbd)"/>
<line x1="522.3" y1="238.9" x2="525.1" y2="238.9" stroke="#444" stroke-width="0.6" />
<text font-size="5.5" font-weight="bold" style="stroke-width:0.08px" transform="translate(527.8 240.9) scale(1 1)">2.7x10<tspan font-size="4.2" dy="-1.9">-1</tspan></text>
<line x1="522.3" y1="252.4" x2="525.1" y2="252.4" stroke="#444" stroke-width="0.6" />
<text font-size="5.5" font-weight="bold" style="stroke-width:0.08px" transform="translate(527.8 254.4) scale(1 1)">2.4x10<tspan font-size="4.2" dy="-1.9">-1</tspan></text>
<line x1="522.3" y1="266.0" x2="525.1" y2="266.0" stroke="#444" stroke-width="0.6" />
<text font-size="5.5" font-weight="bold" style="stroke-width:0.08px" transform="translate(527.8 268.0) scale(1 1)">2.2x10<tspan font-size="4.2" dy="-1.9">-1</tspan></text>
<line x1="522.3" y1="279.5" x2="525.1" y2="279.5" stroke="#444" stroke-width="0.6" />
<text font-size="5.5" font-weight="bold" style="stroke-width:0.08px" transform="translate(527.8 281.5) scale(1 1)">1.9x10<tspan font-size="4.2" dy="-1.9">-1</tspan></text>
<line x1="522.3" y1="293.0" x2="525.1" y2="293.0" stroke="#444" stroke-width="0.6" />
<text font-size="5.5" font-weight="bold" style="stroke-width:0.08px" transform="translate(527.8 295.0) scale(1 1)">1.6x10<tspan font-size="4.2" dy="-1.9">-1</tspan></text>
<line x1="522.3" y1="306.5" x2="525.1" y2="306.5" stroke="#444" stroke-width="0.6" />
<text font-size="5.5" font-weight="bold" style="stroke-width:0.08px" transform="translate(527.8 308.6) scale(1 1)">1.4x10<tspan font-size="4.2" dy="-1.9">-1</tspan></text>
<line x1="522.3" y1="320.1" x2="525.1" y2="320.1" stroke="#444" stroke-width="0.6" />
<text font-size="5.5" font-weight="bold" style="stroke-width:0.08px" transform="translate(527.8 322.1) scale(1 1)">1.1x10<tspan font-size="4.2" dy="-1.9">-1</tspan></text>
<line x1="522.3" y1="333.6" x2="525.1" y2="333.6" stroke="#444" stroke-width="0.6" />
<text font-size="5.5" font-weight="bold" style="stroke-width:0.08px" transform="translate(527.8 335.6) scale(1 1)">8.1x10<tspan font-size="4.2" dy="-1.9">-2</tspan></text>
<line x1="522.3" y1="347.1" x2="525.1" y2="347.1" stroke="#444" stroke-width="0.6" />
<text font-size="5.5" font-weight="bold" style="stroke-width:0.08px" transform="translate(527.8 349.2) scale(1 1)">5.4x10<tspan font-size="4.2" dy="-1.9">-2</tspan></text>
<line x1="522.3" y1="360.7" x2="525.1" y2="360.7" stroke="#444" stroke-width="0.6" />
<text font-size="5.5" font-weight="bold" style="stroke-width:0.08px" transform="translate(527.8 362.7) scale(1 1)">2.7x10<tspan font-size="4.2" dy="-1.9">-2</tspan></text>
<line x1="522.3" y1="374.2" x2="525.1" y2="374.2" stroke="#444" stroke-width="0.6" />
<text font-size="5.5" font-weight="bold" style="stroke-width:0.08px" transform="translate(527.8 376.2) scale(1 1)">0.0</text>
<text x="422.6" y="423.5" font-size="9.66" text-anchor="middle" font-weight="bold" font-style="normal" >(d) <tspan font-style="italic">&#949;<tspan font-size="6" dy="1">sp</tspan></tspan><tspan dy="-1"> versus fines content and load cycles</tspan></text>
</g>
</svg>
</body></html>
